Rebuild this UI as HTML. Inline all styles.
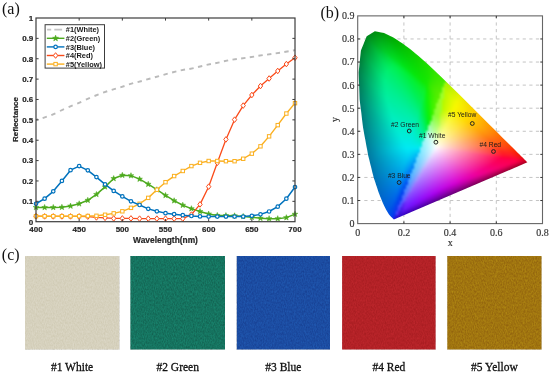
<!DOCTYPE html>
<html><head><meta charset="utf-8"><title>Figure</title>
<style>
html,body{margin:0;padding:0;background:#fff;}
body{width:550px;height:374px;overflow:hidden;position:relative;}
svg{position:absolute;left:0;top:0;}
.ph{position:absolute;top:256px;height:93.5px;
overflow:hidden;}
.ph svg{position:absolute;left:0;top:0;mix-blend-mode:overlay;opacity:0.35;}
.cap{position:absolute;top:360.3px;width:80px;text-align:center;font-family:"Liberation Serif", "Times New Roman", serif;font-size:11.5px;line-height:14px;color:#111;white-space:nowrap;-webkit-text-stroke:0.3px #111;}
.lbl{position:absolute;font-family:"Liberation Serif", "Times New Roman", serif;font-size:16px;line-height:16px;color:#111;white-space:nowrap;}
#fillwrap{position:absolute;left:0;top:0;width:550px;height:374px;clip-path:polygon(393.87px 219.51px,392.58px 218.36px,390.96px 216.75px,389px 214.39px,386.37px 210.26px,383.02px 203.57px,378.79px 192.97px,373.57px 177.28px,368.19px 155.51px,363.13px 128.35px,359.59px 99.34px,358.6px 72.47px,360.91px 50.45px,366.69px 36.19px,374.86px 31.16px,384.08px 32.91px,393.44px 37.6px,402.26px 43.21px,410.74px 49.51px,419.1px 56.43px,427.37px 63.82px,435.62px 71.53px,443.89px 79.47px,452.11px 87.52px,460.29px 95.58px,468.3px 103.54px,476.09px 111.29px,483.55px 118.72px,490.57px 125.69px,496.97px 132.09px,502.54px 137.63px,507.43px 142.5px,511.5px 146.51px,514.8px 149.81px,517.44px 152.44px,519.54px 154.52px,521.22px 156.21px,522.63px 157.61px,523.79px 158.77px,524.71px 159.67px,525.41px 160.36px,525.94px 160.89px,526.33px 161.28px,526.58px 161.54px,526.79px 161.75px,526.95px 161.91px,527.12px 162.07px,527.35px 162.3px,527.42px 162.37px);}
#fill{position:absolute;filter:blur(0.9px);left:0px;top:0px;width:2px;height:2px;box-shadow:372px 29px #008b11,374px 29px #008d0e,376px 29px #00910d,378px 29px #00940b,370px 31px #008a15,372px 31px #008b12,374px 31px #008e10,376px 31px #00910e,378px 31px #00930c,380px 31px #00960a,382px 31px #009a08,384px 31px #009e06,366px 33px #00871c,368px 33px #008819,370px 33px #008a17,372px 33px #008f15,374px 33px #009314,376px 33px #009612,378px 33px #00980f,380px 33px #009a0d,382px 33px #009c0a,384px 33px #009e08,386px 33px #00a005,388px 33px #00a403,364px 35px #008520,366px 35px #00861d,368px 35px #008b1c,370px 35px #008f1a,372px 35px #009319,374px 35px #009717,376px 35px #009b15,378px 35px #009d13,380px 35px #009f10,382px 35px #00a10e,384px 35px #00a30b,386px 35px #00a408,388px 35px #00a405,390px 35px #00a602,392px 35px #00aa00,364px 37px #008521,366px 37px #008920,368px 37px #008f1f,370px 37px #00931e,372px 37px #00981c,374px 37px #009c1a,376px 37px #00a019,378px 37px #00a317,380px 37px #00a514,382px 37px #00a611,384px 37px #00a80f,386px 37px #00a90c,388px 37px #00a908,390px 37px #00aa05,392px 37px #00ab01,394px 37px #01ad00,396px 37px #03b200,362px 39px #008424,364px 39px #008422,366px 39px #008c23,368px 39px #009423,370px 39px #009821,372px 39px #009c1f,374px 39px #00a01e,376px 39px #00a41c,378px 39px #00a81a,380px 39px #00aa18,382px 39px #00ab15,384px 39px #00ad12,386px 39px #00ae0f,388px 39px #00ae0c,390px 39px #00ae08,392px 39px #00af04,394px 39px #00b002,396px 39px #02b000,398px 39px #03b400,362px 41px #008325,364px 41px #008625,366px 41px #008e26,368px 41px #009627,370px 41px #009d26,372px 41px #00a122,374px 41px #00a521,376px 41px #00a91f,378px 41px #00ac1d,380px 41px #00b01c,382px 41px #00b119,384px 41px #00b216,386px 41px #00b313,388px 41px #00b40f,390px 41px #00b30b,392px 41px #00b308,394px 41px #00b404,396px 41px #01b402,398px 41px #03b501,400px 41px #04b700,402px 41px #06bc00,362px 43px #008327,364px 43px #008928,366px 43px #009029,368px 43px #00982b,370px 43px #00a02b,372px 43px #00a529,374px 43px #00a924,376px 43px #00ad22,378px 43px #00b121,380px 43px #00b51f,382px 43px #00b61c,384px 43px #00b719,386px 43px #00b816,388px 43px #00b913,390px 43px #00b80f,392px 43px #00b80b,394px 43px #00b807,396px 43px #01b805,398px 43px #02b903,400px 43px #04b901,402px 43px #05bb00,404px 43px #07bf00,360px 45px #00812a,362px 45px #008329,364px 45px #008b2b,366px 45px #00932d,368px 45px #009b2e,370px 45px #00a22f,372px 45px #00aa2f,374px 45px #00ae2c,376px 45px #00b127,378px 45px #00b524,380px 45px #00b922,382px 45px #00bc20,384px 45px #00bc1d,386px 45px #00bd1a,388px 45px #00be17,390px 45px #00be13,392px 45px #00bd0f,394px 45px #00bc0b,396px 45px #00bc07,398px 45px #02bc05,400px 45px #03bd03,402px 45px #05be02,404px 45px #06bf01,406px 45px #08c200,408px 45px #09c600,360px 47px #00812b,362px 47px #00852c,364px 47px #008d2e,366px 47px #009530,368px 47px #009d32,370px 47px #00a533,372px 47px #00ac34,374px 47px #00b233,376px 47px #00b62f,378px 47px #00b92a,380px 47px #00bd25,382px 47px #00c124,384px 47px #00c221,386px 47px #00c21d,388px 47px #00c31a,390px 47px #00c317,392px 47px #00c212,394px 47px #00c10e,396px 47px #00c10a,398px 47px #01c007,400px 47px #03c005,402px 47px #04c103,404px 47px #06c202,406px 47px #07c301,408px 47px #09c500,410px 47px #0bc900,358px 49px #00802f,360px 49px #00802d,362px 49px #00882f,364px 49px #008f31,366px 49px #009734,368px 49px #009f35,370px 49px #00a737,372px 49px #00ae38,374px 49px #00b639,376px 49px #00ba36,378px 49px #00be33,380px 49px #00c12e,382px 49px #00c527,384px 49px #00c825,386px 49px #00c821,388px 49px #00c81e,390px 49px #00c81a,392px 49px #00c716,394px 49px #00c612,396px 49px #00c50d,398px 49px #01c50a,400px 49px #02c407,402px 49px #04c405,404px 49px #05c504,406px 49px #07c602,408px 49px #08c701,410px 49px #0ac900,412px 49px #0dcc00,358px 51px #008032,360px 51px #00812f,362px 51px #008a32,364px 51px #009235,366px 51px #009937,368px 51px #00a139,370px 51px #00a93b,372px 51px #00b03c,374px 51px #00b83d,376px 51px #00bf3d,378px 51px #00c23a,380px 51px #00c536,382px 51px #00c931,384px 51px #00cc29,386px 51px #00cd25,388px 51px #00cd21,390px 51px #00cd1e,392px 51px #00cd1a,394px 51px #00cb15,396px 51px #00ca11,398px 51px #00c90d,400px 51px #02c80a,402px 51px #03c807,404px 51px #05c805,406px 51px #06c803,408px 51px #08c902,410px 51px #0acb01,412px 51px #0ccc00,414px 51px #0fce00,358px 53px #008034,360px 53px #008233,362px 53px #008c36,364px 53px #009438,366px 53px #009c3b,368px 53px #00a33d,370px 53px #00ab3f,372px 53px #00b240,374px 53px #00ba42,376px 53px #00c142,378px 53px #00c641,380px 53px #00ca3e,382px 53px #00cd3a,384px 53px #00d035,386px 53px #00d32d,388px 53px #00d225,390px 53px #00d221,392px 53px #00d21e,394px 53px #00d019,396px 53px #00cf14,398px 53px #00cd10,400px 53px #01cc0c,402px 53px #03cb09,404px 53px #04cb07,406px 53px #06cb05,408px 53px #07cc03,410px 53px #09cd02,412px 53px #0bce01,414px 53px #0fcf00,416px 53px #12d000,418px 53px #15d400,358px 55px #008036,360px 55px #008336,362px 55px #008c39,364px 55px #00963c,366px 55px #009e3f,368px 55px #00a541,370px 55px #00ad43,372px 55px #00b445,374px 55px #00bc46,376px 55px #00c347,378px 55px #00ca48,380px 55px #00ce45,382px 55px #00d141,384px 55px #00d43d,386px 55px #00d738,388px 55px #00d82f,390px 55px #00d725,392px 55px #00d721,394px 55px #00d61d,396px 55px #00d418,398px 55px #00d213,400px 55px #00d10f,402px 55px #02cf0c,404px 55px #03cf09,406px 55px #05ce07,408px 55px #07ce05,410px 55px #08cf03,412px 55px #0bd002,414px 55px #0ed101,416px 55px #11d100,418px 55px #14d300,420px 55px #17d600,358px 57px #007f39,360px 57px #008439,362px 57px #008d3c,364px 57px #00973f,366px 57px #00a042,368px 57px #00a745,370px 57px #00af47,372px 57px #00b649,374px 57px #00be4a,376px 57px #00c54c,378px 57px #00cc4d,380px 57px #00d24c,382px 57px #00d549,384px 57px #00d845,386px 57px #00db41,388px 57px #00de3c,390px 57px #00dd32,392px 57px #00dc25,394px 57px #00db21,396px 57px #00d91c,398px 57px #00d717,400px 57px #00d512,402px 57px #01d30e,404px 57px #03d20b,406px 57px #04d209,408px 57px #06d106,410px 57px #08d204,412px 57px #0ad203,414px 57px #0dd302,416px 57px #10d301,418px 57px #13d400,420px 57px #16d600,422px 57px #19d900,358px 59px #007f3b,360px 59px #00843c,362px 59px #008e3f,364px 59px #009742,366px 59px #00a146,368px 59px #00a949,370px 59px #00b14b,372px 59px #00b84d,374px 59px #00c04f,376px 59px #00c750,378px 59px #00ce51,380px 59px #00d552,382px 59px #00d950,384px 59px #00dc4d,386px 59px #00df49,388px 59px #00e144,390px 59px #00e23d,392px 59px #00e134,394px 59px #00e027,396px 59px #00de20,398px 59px #00dc1b,400px 59px #00da16,402px 59px #01d811,404px 59px #02d60e,406px 59px #04d50b,408px 59px #06d408,410px 59px #07d405,412px 59px #09d504,414px 59px #0cd502,416px 59px #0fd501,418px 59px #12d601,420px 59px #15d700,422px 59px #19d800,424px 59px #1bdb00,358px 61px #007f3e,360px 61px #00853f,362px 61px #008e42,364px 61px #009845,366px 61px #00a149,368px 61px #00ab4c,370px 61px #00b34f,372px 61px #00ba51,374px 61px #00c153,376px 61px #00c955,378px 61px #00d056,380px 61px #00d657,382px 61px #00dd57,384px 61px #00e054,386px 61px #00e250,388px 61px #00e54c,390px 61px #00e748,392px 61px #00e63f,394px 61px #00e535,396px 61px #00e429,398px 61px #00e11f,400px 61px #00de19,402px 61px #00dc14,404px 61px #02da10,406px 61px #03d90d,408px 61px #05d80a,410px 61px #07d707,412px 61px #08d705,414px 61px #0bd703,416px 61px #0ed702,418px 61px #11d801,420px 61px #14d801,422px 61px #18da00,424px 61px #1bdb00,426px 61px #1ede00,358px 63px #007f40,360px 63px #008642,362px 63px #008f45,364px 63px #009849,366px 63px #00a24c,368px 63px #00ab4f,370px 63px #00b453,372px 63px #00bc56,374px 63px #00c358,376px 63px #00ca59,378px 63px #00d15b,380px 63px #00d85c,382px 63px #00df5d,384px 63px #00e35b,386px 63px #00e658,388px 63px #00e854,390px 63px #00ea50,392px 63px #00eb49,394px 63px #00ea41,396px 63px #00e837,398px 63px #00e62b,400px 63px #00e31d,402px 63px #00e118,404px 63px #01de13,406px 63px #03dc0f,408px 63px #04db0c,410px 63px #06da09,412px 63px #08d906,414px 63px #0ad904,416px 63px #0dd903,418px 63px #10d902,420px 63px #13da01,422px 63px #17db00,424px 63px #1adc00,426px 63px #1dde00,428px 63px #22df00,358px 65px #007f43,360px 65px #008745,362px 65px #009048,364px 65px #00994c,366px 65px #00a24f,368px 65px #00ab53,370px 65px #00b556,372px 65px #00be5a,374px 65px #00c55c,376px 65px #00cc5e,378px 65px #00d35f,380px 65px #00da61,382px 65px #00e062,384px 65px #00e662,386px 65px #00e95f,388px 65px #00eb5b,390px 65px #00ed57,392px 65px #00ef53,394px 65px #00ee4b,396px 65px #00ed42,398px 65px #00eb38,400px 65px #00e82b,402px 65px #00e51b,404px 65px #00e316,406px 65px #02e012,408px 65px #04de0e,410px 65px #06dd0a,412px 65px #07dc07,414px 65px #09dc05,416px 65px #0cdb03,418px 65px #0fdb02,420px 65px #12dc01,422px 65px #16dc01,424px 65px #19dd00,426px 65px #1cdf00,428px 65px #21e000,430px 65px #26e100,358px 67px #007f45,360px 67px #008748,362px 67px #00904b,364px 67px #00994f,366px 67px #00a252,368px 67px #00ab56,370px 67px #00b559,372px 67px #00be5d,374px 67px #00c760,376px 67px #00ce62,378px 67px #00d464,380px 67px #00db65,382px 67px #00e166,384px 67px #00e767,386px 67px #00ec66,388px 67px #00ee62,390px 67px #00f05e,392px 67px #00f059,394px 67px #00f053,396px 67px #00f04b,398px 67px #00ef43,400px 67px #00ed38,402px 67px #00ea2c,404px 67px #00e71c,406px 67px #01e414,408px 67px #03e210,410px 67px #05e00c,412px 67px #07df09,414px 67px #08de06,416px 67px #0bdd04,418px 67px #0edd03,420px 67px #12dd02,422px 67px #15de01,424px 67px #18df00,426px 67px #1be000,428px 67px #20e100,430px 67px #26e100,432px 67px #2be200,356px 69px #007f4a,358px 69px #007f48,360px 69px #00884b,362px 69px #00914e,364px 69px #009a52,366px 69px #00a355,368px 69px #00ac59,370px 69px #00b55c,372px 69px #00be60,374px 69px #00c764,376px 69px #00cf67,378px 69px #00d669,380px 69px #00dc6a,382px 69px #00e36b,384px 69px #00e96c,386px 69px #00ee6c,388px 69px #00ef68,390px 69px #00f063,392px 69px #00f05e,394px 69px #00f059,396px 69px #00f052,398px 69px #00f04a,400px 69px #00f042,402px 69px #00ee38,404px 69px #00eb2c,406px 69px #01e81e,408px 69px #03e613,410px 69px #04e30f,412px 69px #06e20b,414px 69px #08e007,416px 69px #0ae005,418px 69px #0ddf04,420px 69px #11df02,422px 69px #14df01,424px 69px #17e001,426px 69px #1ae100,428px 69px #1fe200,430px 69px #24e200,432px 69px #2be200,434px 69px #2fe300,356px 71px #007e4c,358px 71px #00804b,360px 71px #00894e,362px 71px #009151,364px 71px #009a55,366px 71px #00a358,368px 71px #00ac5c,370px 71px #00b55f,372px 71px #00be63,374px 71px #00c767,376px 71px #00d06b,378px 71px #00d76d,380px 71px #00de6f,382px 71px #00e470,384px 71px #00ea71,386px 71px #00ef71,388px 71px #00ef6d,390px 71px #00f068,392px 71px #00f063,394px 71px #00f05e,396px 71px #00f058,398px 71px #00f051,400px 71px #00f049,402px 71px #00f041,404px 71px #00ef37,406px 71px #00ec2c,408px 71px #02e91f,410px 71px #04e711,412px 71px #05e50d,414px 71px #07e309,416px 71px #09e206,418px 71px #0ce104,420px 71px #10e103,422px 71px #13e102,424px 71px #16e101,426px 71px #1ae200,428px 71px #1ee300,430px 71px #25e300,432px 71px #2be300,434px 71px #30e400,436px 71px #33e500,356px 73px #007e4e,358px 73px #00804d,360px 73px #008951,362px 73px #009255,364px 73px #009b58,366px 73px #00a35b,368px 73px #00ac5f,370px 73px #00b563,372px 73px #00be66,374px 73px #00c76a,376px 73px #00d06e,378px 73px #00d972,380px 73px #00df74,382px 73px #00e575,384px 73px #00eb76,386px 73px #00ef75,388px 73px #00ef71,390px 73px #00ef6d,392px 73px #00f068,394px 73px #00f063,396px 73px #00f05e,398px 73px #00f057,400px 73px #00f050,402px 73px #00f048,404px 73px #00f03f,406px 73px #00f036,408px 73px #01ed2b,410px 73px #03ea1f,412px 73px #05e80f,414px 73px #07e60b,416px 73px #08e407,418px 73px #0ce305,420px 73px #0fe303,422px 73px #12e202,424px 73px #15e301,426px 73px #19e300,428px 73px #1ce400,430px 73px #26e400,432px 73px #2de400,434px 73px #31e500,436px 73px #34e500,438px 73px #38e600,440px 73px #3ce800,356px 75px #007e51,358px 75px #00804f,360px 75px #008954,362px 75px #009358,364px 75px #009b5b,366px 75px #00a45e,368px 75px #00ac62,370px 75px #00b566,372px 75px #00be69,374px 75px #00c76d,376px 75px #00d071,378px 75px #00d875,380px 75px #00e178,382px 75px #00e67a,384px 75px #00ec7a,386px 75px #00ef79,388px 75px #00ef76,390px 75px #00ef72,392px 75px #00ef6d,394px 75px #00f068,396px 75px #00f063,398px 75px #00f05d,400px 75px #00f056,402px 75px #00f04e,404px 75px #00f046,406px 75px #00f03e,408px 75px #01f035,410px 75px #02ee2b,412px 75px #04eb1f,414px 75px #06e910,416px 75px #08e709,418px 75px #0be506,420px 75px #0ee404,422px 75px #11e403,424px 75px #14e401,426px 75px #18e401,428px 75px #1be500,430px 75px #28e500,432px 75px #2fe500,434px 75px #33e600,436px 75px #37e600,438px 75px #39e700,440px 75px #3ce800,442px 75px #40e900,356px 77px #007e53,358px 77px #007f52,360px 77px #008956,362px 77px #00925a,364px 77px #009c5e,366px 77px #00a461,368px 77px #00ad65,370px 77px #00b569,372px 77px #00be6c,374px 77px #00c770,376px 77px #00cf74,378px 77px #00d878,380px 77px #00e07b,382px 77px #00e87e,384px 77px #00ed7f,386px 77px #00ef7d,388px 77px #00ef7a,390px 77px #00ef76,392px 77px #00ef72,394px 77px #00f06d,396px 77px #00f068,398px 77px #00f062,400px 77px #00f05c,402px 77px #00f055,404px 77px #00f04d,406px 77px #00f045,408px 77px #00f03c,410px 77px #02f034,412px 77px #04ee2a,414px 77px #05eb1e,416px 77px #07e911,418px 77px #0ae807,420px 77px #0de605,422px 77px #10e603,424px 77px #13e502,426px 77px #17e601,428px 77px #1ae600,430px 77px #2ae600,432px 77px #31e600,434px 77px #36e700,436px 77px #39e700,438px 77px #3ce800,440px 77px #3ee800,442px 77px #40e900,444px 77px #44ea00,356px 79px #007e55,358px 79px #007f54,360px 79px #008858,362px 79px #00925c,364px 79px #009b60,366px 79px #00a465,368px 79px #00ad68,370px 79px #00b56c,372px 79px #00be6f,374px 79px #00c773,376px 79px #00cf77,378px 79px #00d87b,380px 79px #00e07e,382px 79px #00e882,384px 79px #00ee84,386px 79px #00ef81,388px 79px #00ef7e,390px 79px #00ef7a,392px 79px #00ef76,394px 79px #00ef72,396px 79px #00f06d,398px 79px #00f067,400px 79px #00f062,402px 79px #00f05a,404px 79px #00f053,406px 79px #00f04b,408px 79px #00f043,410px 79px #01f03b,412px 79px #03f033,414px 79px #05ee29,416px 79px #07ec1e,418px 79px #09ea12,420px 79px #0ce806,422px 79px #0fe704,424px 79px #12e702,426px 79px #16e701,428px 79px #20e700,430px 79px #2ce700,432px 79px #33e700,434px 79px #38e700,436px 79px #3ce800,438px 79px #3fe800,440px 79px #41e900,442px 79px #43ea00,444px 79px #45eb00,446px 79px #a3f000,356px 81px #007e57,358px 81px #007e56,360px 81px #00875a,362px 81px #00915e,364px 81px #009a62,366px 81px #00a467,368px 81px #00ad6b,370px 81px #00b56f,372px 81px #00be72,374px 81px #00c676,376px 81px #00cf7a,378px 81px #00d77d,380px 81px #00df81,382px 81px #00e785,384px 81px #00ee88,386px 81px #00ef85,388px 81px #00ef82,390px 81px #00ef7e,392px 81px #00ef7b,394px 81px #00ef76,396px 81px #00f072,398px 81px #00f06c,400px 81px #00f067,402px 81px #00f060,404px 81px #00f059,406px 81px #00f052,408px 81px #00f049,410px 81px #00f041,412px 81px #02f03a,414px 81px #04f032,416px 81px #06ee28,418px 81px #08ec1d,420px 81px #0bea12,422px 81px #0ee905,424px 81px #12e803,426px 81px #15e801,428px 81px #24e800,430px 81px #2fe800,432px 81px #36e800,434px 81px #3be800,436px 81px #3fe900,438px 81px #42e900,440px 81px #44ea00,442px 81px #46ea00,444px 81px #47eb00,446px 81px #a5f000,448px 81px #adf000,358px 83px #007e58,360px 83px #00875c,362px 83px #009060,364px 83px #009964,366px 83px #00a369,368px 83px #00ac6d,370px 83px #00b672,372px 83px #00be75,374px 83px #00c679,376px 83px #00cf7d,378px 83px #00d780,380px 83px #00df84,382px 83px #00e788,384px 83px #00ed8b,386px 83px #00ef89,388px 83px #00ef86,390px 83px #00ef83,392px 83px #00ef7f,394px 83px #00ef7b,396px 83px #00ef76,398px 83px #00f071,400px 83px #00f06c,402px 83px #00f066,404px 83px #00f05f,406px 83px #00f058,408px 83px #00f050,410px 83px #00f047,412px 83px #02f040,414px 83px #03f038,416px 83px #05f030,418px 83px #07ef26,420px 83px #0aec1c,422px 83px #0deb13,424px 83px #11ea07,426px 83px #14e902,428px 83px #28e900,430px 83px #32e900,432px 83px #39e900,434px 83px #3ee900,436px 83px #42e900,438px 83px #45ea00,440px 83px #48ea00,442px 83px #4aeb00,444px 83px #a0ff28,446px 83px #a9f200,448px 83px #aef000,450px 83px #b6f000,358px 85px #007e5a,360px 85px #00865e,362px 85px #008f62,364px 85px #009966,366px 85px #00a26b,368px 85px #00ab6f,370px 85px #00b574,372px 85px #00be78,374px 85px #00c67c,376px 85px #00ce7f,378px 85px #00d683,380px 85px #00de87,382px 85px #00e68a,384px 85px #00ed8e,386px 85px #00ef8d,388px 85px #00ef8a,390px 85px #00ef87,392px 85px #00ef83,394px 85px #00ef7f,396px 85px #00ef7b,398px 85px #00ef76,400px 85px #00f071,402px 85px #00f06c,404px 85px #00f065,406px 85px #00f05d,408px 85px #00f056,410px 85px #00f04d,412px 85px #01f045,414px 85px #03f03e,416px 85px #05f037,418px 85px #07f02f,420px 85px #09ef25,422px 85px #0ced1c,424px 85px #10eb13,426px 85px #13eb03,428px 85px #2cea00,430px 85px #36ea00,432px 85px #3dea00,434px 85px #42ea00,436px 85px #46ea00,438px 85px #49eb00,440px 85px #4beb00,442px 85px #4eec00,444px 85px #aaf600,446px 85px #aff400,448px 85px #b3f200,450px 85px #b8f000,452px 85px #c0f000,358px 87px #007e5c,360px 87px #008660,362px 87px #008f64,364px 87px #009869,366px 87px #00a16d,368px 87px #00aa71,370px 87px #00b376,372px 87px #00bd7a,374px 87px #00c67f,376px 87px #00ce82,378px 87px #00d686,380px 87px #00de8a,382px 87px #00e58d,384px 87px #00ec90,386px 87px #00ef90,388px 87px #00ef8e,390px 87px #00ef8b,392px 87px #00ef87,394px 87px #00ef83,396px 87px #00ef7f,398px 87px #00ef7b,400px 87px #00f076,402px 87px #00f071,404px 87px #00f06b,406px 87px #00f063,408px 87px #00f05c,410px 87px #00f054,412px 87px #00f04b,414px 87px #02f044,416px 87px #04f03c,418px 87px #06f035,420px 87px #08f02d,422px 87px #0cee24,424px 87px #0fed1c,426px 87px #12ec04,428px 87px #29eb01,430px 87px #39eb00,432px 87px #40eb00,434px 87px #45eb00,436px 87px #4aeb00,438px 87px #4deb00,440px 87px #4fec00,442px 87px #9dff2a,444px 87px #aff700,446px 87px #b4f500,448px 87px #b9f300,450px 87px #bdf200,452px 87px #c2f000,454px 87px #c9f000,358px 89px #007e5f,360px 89px #008562,362px 89px #008e66,364px 89px #00976b,366px 89px #00a06f,368px 89px #00a973,370px 89px #00b278,372px 89px #00bb7c,374px 89px #00c481,376px 89px #00ce85,378px 89px #00d589,380px 89px #00dd8d,382px 89px #00e590,384px 89px #00ec93,386px 89px #00ef93,388px 89px #00ef91,390px 89px #00ef8f,392px 89px #00ef8b,394px 89px #00ef88,396px 89px #00ef84,398px 89px #00ef80,400px 89px #00ef7b,402px 89px #00f076,404px 89px #00f070,406px 89px #00f069,408px 89px #00f062,410px 89px #00f05a,412px 89px #00f051,414px 89px #01f049,416px 89px #03f042,418px 89px #06f03b,420px 89px #08f133,422px 89px #0bf02c,424px 89px #0eef23,426px 89px #11ed06,428px 89px #26ed01,430px 89px #35ec00,432px 89px #44ec00,434px 89px #49ec00,436px 89px #4dec00,438px 89px #51ec00,440px 89px #53ec00,442px 89px #9dff29,444px 89px #b3f900,446px 89px #b9f700,448px 89px #bef500,450px 89px #c3f300,452px 89px #c7f100,454px 89px #ccf000,456px 89px #d3f000,358px 91px #007d61,360px 91px #008564,362px 91px #008d68,364px 91px #00966d,366px 91px #009f71,368px 91px #00a875,370px 91px #00b17a,372px 91px #00ba7e,374px 91px #00c383,376px 91px #00cc87,378px 91px #00d58c,380px 91px #00dd8f,382px 91px #00e493,384px 91px #00eb96,386px 91px #00ef97,388px 91px #00ef95,390px 91px #00ef92,392px 91px #00ef90,394px 91px #00ef8c,396px 91px #00ef88,398px 91px #00ef84,400px 91px #00ef80,402px 91px #00f07b,404px 91px #00f075,406px 91px #00f06f,408px 91px #00f068,410px 91px #00f060,412px 91px #00f057,414px 91px #00f04f,416px 91px #03f048,418px 91px #05f040,420px 91px #07f139,422px 91px #0af132,424px 91px #0df02b,426px 91px #10ef07,428px 91px #23ee01,430px 91px #33ed00,432px 91px #40ed00,434px 91px #4bec00,436px 91px #52ec00,438px 91px #55ed00,440px 91px #58ed00,442px 91px #9eff29,444px 91px #b7fa00,446px 91px #bef800,448px 91px #c4f700,450px 91px #c9f500,452px 91px #cdf300,454px 91px #d1f100,456px 91px #d5f000,458px 91px #dcf000,358px 93px #007d63,360px 93px #008466,362px 93px #008d6a,364px 93px #00956f,366px 93px #009e73,368px 93px #00a777,370px 93px #00b07b,372px 93px #00b980,374px 93px #00c284,376px 93px #00ca89,378px 93px #00d38e,380px 93px #00dc92,382px 93px #00e396,384px 93px #00ea99,386px 93px #00ef9a,388px 93px #00ef98,390px 93px #00ef96,392px 93px #00ef93,394px 93px #00ef90,396px 93px #00ef8d,398px 93px #00ef89,400px 93px #00ef85,402px 93px #00ef80,404px 93px #00f07a,406px 93px #00f075,408px 93px #00f06e,410px 93px #00f066,412px 93px #00f05d,414px 93px #00f055,416px 93px #02f04d,418px 93px #04f046,420px 93px #07f03e,422px 93px #09f137,424px 93px #0cf127,426px 93px #10f009,428px 93px #22ef01,430px 93px #32ee00,432px 93px #3fee00,434px 93px #4aed00,436px 93px #53ed00,438px 93px #59ed00,440px 93px #99fe2b,442px 93px #9eff29,444px 93px #b8fa00,446px 93px #c2f900,448px 93px #c9f800,450px 93px #cef600,452px 93px #d3f500,454px 93px #d7f300,456px 93px #dbf100,458px 93px #dff000,460px 93px #e6f000,358px 95px #007d66,360px 95px #008468,362px 95px #008c6d,364px 95px #009571,366px 95px #009d75,368px 95px #00a679,370px 95px #00af7d,372px 95px #00b782,374px 95px #00c086,376px 95px #00c98b,378px 95px #00d28f,380px 95px #00da94,382px 95px #00e398,384px 95px #00ea9b,386px 95px #00ef9d,388px 95px #00ef9b,390px 95px #00ef99,392px 95px #00ef97,394px 95px #00ef94,396px 95px #00ef91,398px 95px #00ef8d,400px 95px #00ef89,402px 95px #00ef85,404px 95px #00ef80,406px 95px #00f07a,408px 95px #00f074,410px 95px #00f06c,412px 95px #00f064,414px 95px #00f05b,416px 95px #01f052,418px 95px #03f04b,420px 95px #06f043,422px 95px #08f13c,424px 95px #0cf124,426px 95px #0ff10a,428px 95px #20f002,430px 95px #31ef00,432px 95px #3fee00,434px 95px #4aee00,436px 95px #53ee00,438px 95px #5aee00,440px 95px #9aff2b,442px 95px #9fff29,444px 95px #bafa00,446px 95px #c4f900,448px 95px #cdf900,450px 95px #d3f800,452px 95px #d9f600,454px 95px #ddf400,456px 95px #e2f300,458px 95px #e5f100,460px 95px #e7ee00,462px 95px #e9eb00,358px 97px #007d68,360px 97px #00836b,362px 97px #008c6f,364px 97px #009473,366px 97px #009c77,368px 97px #00a57b,370px 97px #00ad7f,372px 97px #00b684,374px 97px #00bf88,376px 97px #00c78d,378px 97px #00d091,380px 97px #00d996,382px 97px #00e19a,384px 97px #00e99e,386px 97px #00eea1,388px 97px #00ef9f,390px 97px #00ef9c,392px 97px #00ef9a,394px 97px #00ef98,396px 97px #00ef95,398px 97px #00ef92,400px 97px #00ef8e,402px 97px #00ef8a,404px 97px #00ef85,406px 97px #00f07f,408px 97px #00f079,410px 97px #00f072,412px 97px #00f06a,414px 97px #00f061,416px 97px #00f058,418px 97px #03f050,420px 97px #05f049,422px 97px #08f141,424px 97px #0bf124,426px 97px #0ef10b,428px 97px #1ff102,430px 97px #31f000,432px 97px #3fef00,434px 97px #4bef00,436px 97px #54ef00,438px 97px #5cef00,440px 97px #9aff2b,442px 97px #a0ff28,444px 97px #bcfa00,446px 97px #c6f900,448px 97px #cff900,450px 97px #d8f900,452px 97px #def700,454px 97px #e3f600,456px 97px #e8f400,458px 97px #ecf300,460px 97px #ebee00,462px 97px #eae900,464px 97px #ece600,358px 99px #007d6a,360px 99px #00836d,362px 99px #008b71,364px 99px #009375,366px 99px #009c79,368px 99px #00a47d,370px 99px #00ac81,372px 99px #00b586,374px 99px #00bd8a,376px 99px #00c68e,378px 99px #00ce93,380px 99px #00d797,382px 99px #00df9c,384px 99px #00e7a0,386px 99px #00eea3,388px 99px #00eea2,390px 99px #00efa0,392px 99px #00ef9e,394px 99px #00ef9b,396px 99px #00ef99,398px 99px #00ef96,400px 99px #00ef93,402px 99px #00ef8e,404px 99px #00ef8a,406px 99px #00ef85,408px 99px #00f07f,410px 99px #00f079,412px 99px #00f070,414px 99px #00f068,416px 99px #00f05e,418px 99px #02f056,420px 99px #04f04e,422px 99px #07f143,424px 99px #0af124,426px 99px #0df10d,428px 99px #1df103,430px 99px #30f100,432px 99px #3ff000,434px 99px #4cf000,436px 99px #56ef00,438px 99px #95fe2e,440px 99px #9bff2b,442px 99px #b2fa00,444px 99px #bef900,446px 99px #c8f900,448px 99px #d2f900,450px 99px #dbf900,452px 99px #e3f800,454px 99px #e9f700,456px 99px #eef600,458px 99px #f0f300,460px 99px #efee00,462px 99px #eee900,464px 99px #ede400,466px 99px #efe100,358px 101px #007d6c,360px 101px #00816e,362px 101px #008a73,364px 101px #009277,366px 101px #009b7b,368px 101px #00a37f,370px 101px #00ab83,372px 101px #00b488,374px 101px #00bc8c,376px 101px #00c490,378px 101px #00cd95,380px 101px #00d599,382px 101px #00dd9e,384px 101px #00e5a2,386px 101px #00eca5,388px 101px #00eea5,390px 101px #00eea3,392px 101px #00efa1,394px 101px #00ef9f,396px 101px #00ef9d,398px 101px #00ef9a,400px 101px #00ef97,402px 101px #00ef93,404px 101px #00ef8f,406px 101px #00ef8a,408px 101px #00f085,410px 101px #00f07e,412px 101px #00f077,414px 101px #00f06e,416px 101px #00f065,418px 101px #01f05b,420px 101px #03f053,422px 101px #06f03f,424px 101px #09f124,426px 101px #0df10e,428px 101px #1cf103,430px 101px #30f201,432px 101px #40f100,434px 101px #4df000,436px 101px #58f000,438px 101px #95fe2d,440px 101px #9bff2a,442px 101px #b4fa00,444px 101px #c0f900,446px 101px #cbf900,448px 101px #d5f900,450px 101px #def900,452px 101px #e7f800,454px 101px #eef800,456px 101px #f4f700,458px 101px #f3f300,460px 101px #f2ee00,462px 101px #f1e900,464px 101px #f0e400,466px 101px #f0df00,468px 101px #f2dd00,358px 103px #007d6e,360px 103px #00806f,362px 103px #008974,364px 103px #009179,366px 103px #009a7d,368px 103px #00a281,370px 103px #00aa86,372px 103px #00b28a,374px 103px #00bb8e,376px 103px #00c392,378px 103px #00cb97,380px 103px #00d39b,382px 103px #00db9f,384px 103px #00e3a4,386px 103px #00eaa7,388px 103px #00eea9,390px 103px #00eea7,392px 103px #00eea5,394px 103px #00efa3,396px 103px #00efa0,398px 103px #00ef9e,400px 103px #00ef9b,402px 103px #00ef98,404px 103px #00ef94,406px 103px #00ef8f,408px 103px #00ef8a,410px 103px #00f084,412px 103px #00f07d,414px 103px #00f075,416px 103px #00f06b,418px 103px #00f061,420px 103px #02f059,422px 103px #05f03f,424px 103px #08f125,426px 103px #0cf10f,428px 103px #1af104,430px 103px #2ff201,432px 103px #40f200,434px 103px #4ef100,436px 103px #8efe31,438px 103px #95fe2d,440px 103px #9cff2a,442px 103px #b6fa00,444px 103px #c2f900,446px 103px #cdf900,448px 103px #d7f900,450px 103px #e1f900,452px 103px #eaf800,454px 103px #f2f800,456px 103px #f7f600,458px 103px #f6f200,460px 103px #f5ee00,462px 103px #f4e900,464px 103px #f3e400,466px 103px #f3df00,468px 103px #f3da00,470px 103px #f5d800,358px 105px #007d70,360px 105px #007f71,362px 105px #008775,364px 105px #00907a,366px 105px #00987e,368px 105px #00a183,370px 105px #00a988,372px 105px #00b18c,374px 105px #00b990,376px 105px #00c194,378px 105px #00c999,380px 105px #00d19d,382px 105px #00d9a1,384px 105px #00e1a5,386px 105px #00e8a9,388px 105px #00eeac,390px 105px #00eeaa,392px 105px #00eea8,394px 105px #00eea6,396px 105px #00efa4,398px 105px #00efa2,400px 105px #00ef9f,402px 105px #00ef9c,404px 105px #00ef99,406px 105px #00ef94,408px 105px #00ef90,410px 105px #00ef8a,412px 105px #00f083,414px 105px #00f07c,416px 105px #00f072,418px 105px #00f068,420px 105px #01f05f,422px 105px #04f040,424px 105px #07f127,426px 105px #0bf111,428px 105px #19f104,430px 105px #2ef201,432px 105px #41f200,434px 105px #50f200,436px 105px #8ffe31,438px 105px #96fe2d,440px 105px #9dff2a,442px 105px #b8fa00,444px 105px #c4f900,446px 105px #d0f900,448px 105px #daf900,450px 105px #e4f900,452px 105px #eef800,454px 105px #f6f800,456px 105px #f9f500,458px 105px #f8f100,460px 105px #f7ed00,462px 105px #f7e900,464px 105px #f6e400,466px 105px #f6df00,468px 105px #f6da00,470px 105px #f7d500,472px 105px #f8d300,358px 107px #007d72,360px 107px #007e72,362px 107px #008677,364px 107px #008e7b,366px 107px #009780,368px 107px #009f84,370px 107px #00a789,372px 107px #00b08e,374px 107px #00b892,376px 107px #00c096,378px 107px #00c89a,380px 107px #00d09f,382px 107px #00d8a3,384px 107px #00dfa7,386px 107px #00e7ab,388px 107px #00edae,390px 107px #00eeae,392px 107px #00eeac,394px 107px #00eeaa,396px 107px #00eea8,398px 107px #00efa6,400px 107px #00efa3,402px 107px #00efa0,404px 107px #00ef9e,406px 107px #00ef9a,408px 107px #00ef95,410px 107px #00ef90,412px 107px #00f089,414px 107px #00f082,416px 107px #00f079,418px 107px #00f06f,420px 107px #00f05d,422px 107px #03f042,424px 107px #07f02a,426px 107px #0af113,428px 107px #17f105,430px 107px #2df202,432px 107px #40f200,434px 107px #51f200,436px 107px #8ffe31,438px 107px #96fe2d,440px 107px #9dff29,442px 107px #bafa00,444px 107px #c7f900,446px 107px #d3f900,448px 107px #def900,450px 107px #e8f800,452px 107px #f1f800,454px 107px #f8f700,456px 107px #f9f400,458px 107px #faf000,460px 107px #f9ec00,462px 107px #f9e800,464px 107px #f8e400,466px 107px #f8df00,468px 107px #f8da00,470px 107px #f9d500,472px 107px #fad000,474px 107px #fbce00,358px 109px #007c74,360px 109px #007d73,362px 109px #008578,364px 109px #008d7c,366px 109px #009581,368px 109px #009d86,370px 109px #00a68a,372px 109px #00ae8f,374px 109px #00b694,376px 109px #00bf98,378px 109px #00c69c,380px 109px #00cea1,382px 109px #00d6a5,384px 109px #00dda9,386px 109px #00e5ad,388px 109px #00ebb1,390px 109px #00eeb1,392px 109px #00eeaf,394px 109px #00eeae,396px 109px #00eeac,398px 109px #00eeaa,400px 109px #00efa7,402px 109px #00efa5,404px 109px #00efa2,406px 109px #00ef9f,408px 109px #00ef9a,410px 109px #00ef95,412px 109px #00ef90,414px 109px #00f089,416px 109px #00f081,418px 109px #00f076,420px 109px #00f05e,422px 109px #02f044,424px 109px #06f02c,426px 109px #09f114,428px 109px #16f105,430px 109px #2cf202,432px 109px #40f200,434px 109px #86fd35,436px 109px #8ffe31,438px 109px #97fe2d,440px 109px #9eff29,442px 109px #bdfa01,444px 109px #caf901,446px 109px #d6f900,448px 109px #e1f900,450px 109px #ecf800,452px 109px #f5f800,454px 109px #f9f500,456px 109px #f9f200,458px 109px #faee00,460px 109px #fbeb00,462px 109px #fae700,464px 109px #fae300,466px 109px #fade00,468px 109px #fada00,470px 109px #fbd500,472px 109px #fcd000,474px 109px #fdcb00,476px 109px #ffc900,360px 111px #007c75,362px 111px #008479,364px 111px #008c7e,366px 111px #009482,368px 111px #009c87,370px 111px #00a48c,372px 111px #00ac90,374px 111px #00b495,376px 111px #00bc9a,378px 111px #00c59e,380px 111px #00cca3,382px 111px #00d4a7,384px 111px #00dbab,386px 111px #00e3af,388px 111px #00e9b3,390px 111px #00eeb5,392px 111px #00eeb3,394px 111px #00eeb1,396px 111px #00eeaf,398px 111px #00eead,400px 111px #00eeab,402px 111px #00efa9,404px 111px #00efa6,406px 111px #00efa3,408px 111px #00efa0,410px 111px #00ef9b,412px 111px #00ef96,414px 111px #00f08f,416px 111px #00f088,418px 111px #00f07e,420px 111px #00f061,422px 111px #01f048,424px 111px #05f030,426px 111px #08f116,428px 111px #14f106,430px 111px #2bf202,432px 111px #3ff200,434px 111px #86fd35,436px 111px #8ffe30,438px 111px #98fe2c,440px 111px #9fff28,442px 111px #c3fa0d,444px 111px #cff90d,446px 111px #dbf90b,448px 111px #e6f90a,450px 111px #f0f808,452px 111px #f8f704,454px 111px #f9f300,456px 111px #faf000,458px 111px #faec00,460px 111px #fbe900,462px 111px #fce600,464px 111px #fce200,466px 111px #fcde00,468px 111px #fcd900,470px 111px #fdd500,472px 111px #fed000,474px 111px #ffcb00,476px 111px #ffc500,478px 111px #ffc200,360px 113px #007c77,362px 113px #00837b,364px 113px #008a7f,366px 113px #009284,368px 113px #009a88,370px 113px #00a28d,372px 113px #00aa91,374px 113px #00b296,376px 113px #00ba9b,378px 113px #00c29f,380px 113px #00caa4,382px 113px #00d2a9,384px 113px #00daad,386px 113px #00e1b1,388px 113px #00e8b4,390px 113px #00edb8,392px 113px #00eeb7,394px 113px #00eeb5,396px 113px #00eeb3,398px 113px #00eeb1,400px 113px #00eeaf,402px 113px #00eead,404px 113px #00efaa,406px 113px #00efa8,408px 113px #00efa5,410px 113px #00efa1,412px 113px #00ef9c,414px 113px #00ef96,416px 113px #00f08e,418px 113px #00f085,420px 113px #00f066,422px 113px #00f04c,424px 113px #03f033,426px 113px #07f119,428px 113px #12f107,430px 113px #2af103,432px 113px #3ff200,434px 113px #85fd35,436px 113px #8ffe30,438px 113px #98fe2c,440px 113px #bafa19,442px 113px #c8fa19,444px 113px #d5fa19,446px 113px #e0f917,448px 113px #ebf916,450px 113px #f5f913,452px 113px #f9f60e,454px 113px #faf207,456px 113px #faee01,458px 113px #fbea00,460px 113px #fce700,462px 113px #fce400,464px 113px #fde100,466px 113px #fddd00,468px 113px #fdd900,470px 113px #fed400,472px 113px #ffd000,474px 113px #ffca00,476px 113px #ffc400,478px 113px #ffbf00,480px 113px #ffbc00,360px 115px #007c79,362px 115px #00817c,364px 115px #008981,366px 115px #009185,368px 115px #00998a,370px 115px #00a18e,372px 115px #00a893,374px 115px #00b097,376px 115px #00b89c,378px 115px #00c0a1,380px 115px #00c8a5,382px 115px #00d0aa,384px 115px #00d7ae,386px 115px #00dfb3,388px 115px #00e6b6,390px 115px #00ecba,392px 115px #00eeba,394px 115px #00eeb9,396px 115px #00eeb7,398px 115px #00eeb5,400px 115px #00eeb3,402px 115px #00eeb1,404px 115px #00eeaf,406px 115px #00efac,408px 115px #00efa9,410px 115px #00efa6,412px 115px #00efa2,414px 115px #00ef9c,416px 115px #00ef96,418px 115px #00f085,420px 115px #00f06b,422px 115px #00f051,424px 115px #02f037,426px 115px #06f01d,428px 115px #10f108,430px 115px #29f104,432px 115px #80fc46,434px 115px #88fd3c,436px 115px #90fe31,438px 115px #99fe2c,440px 115px #c0fa26,442px 115px #cefa26,444px 115px #dafa25,446px 115px #e6f923,448px 115px #f0f921,450px 115px #f9f81e,452px 115px #faf418,454px 115px #faf011,456px 115px #fbec0a,458px 115px #fbe803,460px 115px #fce500,462px 115px #fde100,464px 115px #fddf00,466px 115px #fedc00,468px 115px #fed800,470px 115px #ffd400,472px 115px #ffce00,474px 115px #ffc801,476px 115px #ffc301,478px 115px #ffbd00,480px 115px #ffb800,482px 115px #ffb500,360px 117px #007c7b,362px 117px #00807d,364px 117px #008882,366px 117px #009086,368px 117px #00978b,370px 117px #009f90,372px 117px #00a794,374px 117px #00ae99,376px 117px #00b69d,378px 117px #00bea2,380px 117px #00c5a6,382px 117px #00cdab,384px 117px #00d5af,386px 117px #00dcb4,388px 117px #00e4b8,390px 117px #00eabc,392px 117px #00eebe,394px 117px #00eebc,396px 117px #00eebb,398px 117px #00eeb9,400px 117px #00eeb7,402px 117px #00eeb5,404px 117px #00eeb3,406px 117px #00eeb1,408px 117px #00efae,410px 117px #00efab,412px 117px #00efa8,414px 117px #00efa2,416px 117px #00ef9c,418px 117px #00f088,420px 117px #00f071,422px 117px #00f058,424px 117px #01f03c,426px 117px #05f021,428px 117px #0ef109,430px 117px #28f104,432px 117px #86fc52,434px 117px #8ffd47,436px 117px #97fe3d,438px 117px #9dff32,440px 117px #c6fb32,442px 117px #d3fa32,444px 117px #e0fa31,446px 117px #ebfa2f,448px 117px #f5f92d,450px 117px #faf728,452px 117px #faf321,454px 117px #fbef1b,456px 117px #fceb14,458px 117px #fce70d,460px 117px #fde306,462px 117px #fddf00,464px 117px #fedc00,466px 117px #ffd900,468px 117px #ffd600,470px 117px #ffd101,472px 117px #ffcc01,474px 117px #ffc701,476px 117px #ffc101,478px 117px #ffbc01,480px 117px #ffb601,482px 117px #ffb100,484px 117px #ffaf00,360px 119px #007c7d,362px 119px #007f7f,364px 119px #008783,366px 119px #008e88,368px 119px #00968c,370px 119px #009d91,372px 119px #00a595,374px 119px #00ac9a,376px 119px #00b49f,378px 119px #00bca3,380px 119px #00c3a8,382px 119px #00cbac,384px 119px #00d2b1,386px 119px #00d9b5,388px 119px #00e1b9,390px 119px #00e8be,392px 119px #00edc1,394px 119px #00eec0,396px 119px #00eebe,398px 119px #00eebd,400px 119px #00eebb,402px 119px #00eeb9,404px 119px #00eeb7,406px 119px #00eeb5,408px 119px #00eeb3,410px 119px #00efb0,412px 119px #00efad,414px 119px #00efa9,416px 119px #00efa3,418px 119px #00ef8d,420px 119px #00f077,422px 119px #00f05f,424px 119px #00f043,426px 119px #03f026,428px 119px #0cf10a,430px 119px #27f105,432px 119px #8efc5f,434px 119px #95fd53,436px 119px #9dfe48,438px 119px #a4ff3e,440px 119px #ccfb3f,442px 119px #d9fb3f,444px 119px #e5fa3d,446px 119px #f0fa3b,448px 119px #faf939,450px 119px #faf532,452px 119px #fbf12b,454px 119px #fced24,456px 119px #fce91d,458px 119px #fde517,460px 119px #fde110,462px 119px #fedd09,464px 119px #ffd902,466px 119px #ffd600,468px 119px #ffd201,470px 119px #ffce02,472px 119px #ffc902,474px 119px #ffc402,476px 119px #ffbf02,478px 119px #ffba02,480px 119px #ffb502,482px 119px #ffaf01,484px 119px #ffaa00,486px 119px #ffa800,360px 121px #007c7f,362px 121px #007e80,364px 121px #008685,366px 121px #008d89,368px 121px #00958e,370px 121px #009c92,372px 121px #00a397,374px 121px #00ab9b,376px 121px #00b2a0,378px 121px #00b9a4,380px 121px #00c1a9,382px 121px #00c8ad,384px 121px #00cfb2,386px 121px #00d7b6,388px 121px #00debb,390px 121px #00e5bf,392px 121px #00ebc3,394px 121px #00eec4,396px 121px #00eec2,398px 121px #00eec1,400px 121px #00eebf,402px 121px #00eebe,404px 121px #00eebc,406px 121px #00eeba,408px 121px #00eeb7,410px 121px #00efb5,412px 121px #00efb2,414px 121px #00efae,416px 121px #00efa6,418px 121px #00ef91,420px 121px #00f07e,422px 121px #00f067,424px 121px #00f04a,426px 121px #02f02b,428px 121px #0af00d,430px 121px #92fc7d,432px 121px #95fd6b,434px 121px #9cfd5f,436px 121px #a4fe54,438px 121px #aaff49,440px 121px #d1fb4b,442px 121px #dffb4b,444px 121px #eafa49,446px 121px #f5fa47,448px 121px #faf843,450px 121px #fbf43c,452px 121px #fcef35,454px 121px #fceb2e,456px 121px #fde727,458px 121px #fde320,460px 121px #fee019,462px 121px #ffdc13,464px 121px #ffd70c,466px 121px #ffd205,468px 121px #ffcd02,470px 121px #ffc903,472px 121px #ffc603,474px 121px #ffc204,476px 121px #ffbd04,478px 121px #ffb804,480px 121px #ffb303,482px 121px #ffad02,484px 121px #ffa801,486px 121px #ffa300,488px 121px #ffa100,360px 123px #007c81,362px 123px #007d81,364px 123px #008586,366px 123px #008c8b,368px 123px #00938f,370px 123px #009a94,372px 123px #00a298,374px 123px #00a99d,376px 123px #00b0a1,378px 123px #00b7a6,380px 123px #00bfaa,382px 123px #00c6af,384px 123px #00cdb3,386px 123px #00d4b7,388px 123px #00dbbc,390px 123px #00e2c0,392px 123px #00e8c4,394px 123px #00edc7,396px 123px #00eec6,398px 123px #00eec5,400px 123px #00eec3,402px 123px #00eec2,404px 123px #00eec0,406px 123px #00eebe,408px 123px #00eebc,410px 123px #00eeba,412px 123px #00efb7,414px 123px #00efb4,416px 123px #00efa8,418px 123px #00ef97,420px 123px #00ef84,422px 123px #00f06f,424px 123px #00f053,426px 123px #00f031,428px 123px #07f011,430px 123px #99fc89,432px 123px #9cfd78,434px 123px #a3fd6b,436px 123px #aafe60,438px 123px #b1ff55,440px 123px #d7fb58,442px 123px #e4fb57,444px 123px #f0fb56,446px 123px #fafa53,448px 123px #fbf64c,450px 123px #fcf246,452px 123px #fcee3f,454px 123px #fdea38,456px 123px #fde631,458px 123px #fee22a,460px 123px #ffde23,462px 123px #ffd91c,464px 123px #ffd416,466px 123px #ffcf0f,468px 123px #ffc909,470px 123px #ffc404,472px 123px #ffc104,474px 123px #ffbe05,476px 123px #ffb905,478px 123px #ffb505,480px 123px #ffb005,482px 123px #ffab04,484px 123px #ffa603,486px 123px #ffa101,488px 123px #ff9c00,490px 123px #ff9a00,360px 125px #007c83,362px 125px #007c83,364px 125px #008387,366px 125px #008b8c,368px 125px #009291,370px 125px #009995,372px 125px #00a09a,374px 125px #00a79e,376px 125px #00aea3,378px 125px #00b6a7,380px 125px #00bdac,382px 125px #00c4b0,384px 125px #00cbb4,386px 125px #00d2b9,388px 125px #00d8bd,390px 125px #00dfc1,392px 125px #00e5c5,394px 125px #00ebc9,396px 125px #00edc9,398px 125px #00edc8,400px 125px #00eec7,402px 125px #00eec6,404px 125px #00eec4,406px 125px #00eec3,408px 125px #00eec1,410px 125px #00eebf,412px 125px #00eebc,414px 125px #00efb9,416px 125px #00efab,418px 125px #00ef9c,420px 125px #00ef8b,422px 125px #00ef77,424px 125px #00f05d,426px 125px #00f03a,428px 125px #9bfca9,430px 125px #a0fc96,432px 125px #a3fd85,434px 125px #a9fd77,436px 125px #b1fe6c,438px 125px #b8ff61,440px 125px #ddfc65,442px 125px #eafb64,444px 125px #f5fb62,446px 125px #fbf95d,448px 125px #fcf556,450px 125px #fcf04f,452px 125px #fdec48,454px 125px #fee842,456px 125px #fee43b,458px 125px #ffe034,460px 125px #ffdc2d,462px 125px #ffd626,464px 125px #ffd120,466px 125px #ffcb19,468px 125px #ffc613,470px 125px #ffc10c,472px 125px #ffbc06,474px 125px #ffb806,476px 125px #ffb507,478px 125px #ffb107,480px 125px #ffad07,482px 125px #ffa806,484px 125px #ffa305,486px 125px #ff9f03,488px 125px #ff9a02,490px 125px #ff9500,492px 125px #ff9300,362px 127px #007c84,364px 127px #008289,366px 127px #008a8d,368px 127px #009192,370px 127px #009897,372px 127px #009f9b,374px 127px #00a6a0,376px 127px #00ada4,378px 127px #00b4a9,380px 127px #00bbad,382px 127px #00c2b2,384px 127px #00c8b6,386px 127px #00cfba,388px 127px #00d6be,390px 127px #00dcc3,392px 127px #00e3c7,394px 127px #00e9ca,396px 127px #00edcd,398px 127px #00edcc,400px 127px #00edcb,402px 127px #00eeca,404px 127px #00eec9,406px 127px #00eec7,408px 127px #00eec6,410px 127px #00eec4,412px 127px #00eec1,414px 127px #00eebf,416px 127px #00efae,418px 127px #00efa1,420px 127px #00ef92,422px 127px #00ef7f,424px 127px #00f066,426px 127px #00f044,428px 127px #a2fcb6,430px 127px #a7fca4,432px 127px #aafd92,434px 127px #b0fe83,436px 127px #b8fe78,438px 127px #d5fc72,440px 127px #e3fc72,442px 127px #effb70,444px 127px #fafb6e,446px 127px #fcf768,448px 127px #fcf360,450px 127px #fdef59,452px 127px #feeb52,454px 127px #fee74b,456px 127px #ffe344,458px 127px #ffde3e,460px 127px #ffd837,462px 127px #ffd330,464px 127px #ffcd2a,466px 127px #ffc823,468px 127px #ffc31d,470px 127px #ffbd16,472px 127px #ffb810,474px 127px #ffb309,476px 127px #ffaf08,478px 127px #ffac09,480px 127px #ffa909,482px 127px #ffa508,484px 127px #ffa007,486px 127px #ff9b06,488px 127px #ff9604,490px 127px #ff9202,492px 127px #ff8d00,494px 127px #ff8b00,362px 129px #007b86,364px 129px #00818a,366px 129px #00888f,368px 129px #008f93,370px 129px #009698,372px 129px #009d9d,374px 129px #00a4a1,376px 129px #00aba6,378px 129px #00b2aa,380px 129px #00b9af,382px 129px #00bfb3,384px 129px #00c6b7,386px 129px #00cdbc,388px 129px #00d3c0,390px 129px #00dac4,392px 129px #00e0c8,394px 129px #00e6cc,396px 129px #00ebcf,398px 129px #00edcf,400px 129px #00edcf,402px 129px #00edce,404px 129px #00edcd,406px 129px #00eecc,408px 129px #00eeca,410px 129px #00eec9,412px 129px #00eec7,414px 129px #00eec0,416px 129px #00eeb3,418px 129px #00efa7,420px 129px #00ef99,422px 129px #00ef87,424px 129px #00ef70,426px 129px #00f050,428px 129px #aafcc4,430px 129px #aefcb2,432px 129px #b2fd9f,434px 129px #b7fe8f,436px 129px #bffe84,438px 129px #dbfc7f,440px 129px #e9fc7f,442px 129px #f4fc7d,444px 129px #fcfa79,446px 129px #fcf572,448px 129px #fdf16b,450px 129px #feed63,452px 129px #fee95c,454px 129px #ffe555,456px 129px #ffe04e,458px 129px #ffda48,460px 129px #ffd541,462px 129px #ffcf3a,464px 129px #ffca34,466px 129px #ffc52d,468px 129px #ffbf27,470px 129px #ffba20,472px 129px #ffb51a,474px 129px #ffaf13,476px 129px #ffaa0d,478px 129px #ffa60a,480px 129px #ffa30a,482px 129px #ffa00a,484px 129px #ff9c0a,486px 129px #ff9708,488px 129px #ff9307,490px 129px #ff8e05,492px 129px #ff8902,494px 129px #ff8500,496px 129px #ff8300,362px 131px #007b88,364px 131px #00808b,366px 131px #008790,368px 131px #008e95,370px 131px #009599,372px 131px #009c9e,374px 131px #00a3a3,376px 131px #00aaa7,378px 131px #00b0ac,380px 131px #00b7b0,382px 131px #00beb5,384px 131px #00c4b9,386px 131px #00cbbd,388px 131px #00d1c2,390px 131px #00d7c6,392px 131px #00ddca,394px 131px #00e3ce,396px 131px #00e9d1,398px 131px #00ecd3,400px 131px #00ecd2,402px 131px #00edd2,404px 131px #00edd1,406px 131px #00edd0,408px 131px #00edcf,410px 131px #00eece,412px 131px #00eecc,414px 131px #00eec3,416px 131px #00eeb8,418px 131px #00eead,420px 131px #00ef9f,422px 131px #00ef8f,424px 131px #00ef7a,426px 131px #acfadd,428px 131px #b1fcd2,430px 131px #b5fcbf,432px 131px #b9fdac,434px 131px #befe9c,436px 131px #c6fe90,438px 131px #e1fd8c,440px 131px #effc8c,442px 131px #fafc89,444px 131px #fcf883,446px 131px #fdf47c,448px 131px #fef075,450px 131px #feeb6d,452px 131px #ffe766,454px 131px #ffe25f,456px 131px #ffdc59,458px 131px #ffd752,460px 131px #ffd14b,462px 131px #ffcc45,464px 131px #ffc73e,466px 131px #ffc137,468px 131px #ffbc31,470px 131px #ffb62a,472px 131px #ffb124,474px 131px #ffac1d,476px 131px #ffa617,478px 131px #ffa010,480px 131px #ff9b0c,482px 131px #ff990c,484px 131px #ff960c,486px 131px #ff920b,488px 131px #ff8e0a,490px 131px #ff8a08,492px 131px #ff8606,494px 131px #ff8103,496px 131px #ff7d00,498px 131px #ff7c00,362px 133px #007b8a,364px 133px #007e8c,366px 133px #008591,368px 133px #008c96,370px 133px #00939b,372px 133px #009a9f,374px 133px #00a1a4,376px 133px #00a8a9,378px 133px #00aead,380px 133px #00b5b2,382px 133px #00bcb6,384px 133px #00c2bb,386px 133px #00c8bf,388px 133px #00cfc3,390px 133px #00d5c7,392px 133px #00dbcb,394px 133px #00e1cf,396px 133px #00e6d3,398px 133px #00ebd6,400px 133px #00ecd6,402px 133px #00ecd5,404px 133px #00ecd5,406px 133px #00edd4,408px 133px #00edd3,410px 133px #00edd2,412px 133px #00edd1,414px 133px #00eec7,416px 133px #00eebd,418px 133px #00eeb3,420px 133px #00eea7,422px 133px #00ef97,424px 133px #00ef84,426px 133px #affae4,428px 133px #b8fcdd,430px 133px #bcfdcd,432px 133px #c1fdba,434px 133px #c5fea8,436px 133px #cdff9d,438px 133px #e7fd9a,440px 133px #f4fc99,442px 133px #fcfb95,444px 133px #fdf68e,446px 133px #fef286,448px 133px #feee7f,450px 133px #ffea78,452px 133px #ffe471,454px 133px #ffdf6a,456px 133px #ffd963,458px 133px #ffd35c,460px 133px #ffce56,462px 133px #ffc84f,464px 133px #ffc348,466px 133px #ffbe42,468px 133px #ffb83b,470px 133px #ffb334,472px 133px #ffad2e,474px 133px #ffa727,476px 133px #ffa120,478px 133px #ff9b1a,480px 133px #ff9613,482px 133px #ff910e,484px 133px #ff8e0e,486px 133px #ff8c0e,488px 133px #ff880d,490px 133px #ff850b,492px 133px #ff8109,494px 133px #ff7c06,496px 133px #ff7803,498px 133px #ff7400,500px 133px #ff7300,362px 135px #007b8c,364px 135px #007d8d,366px 135px #008492,368px 135px #008b97,370px 135px #00919c,372px 135px #0098a1,374px 135px #009fa6,376px 135px #00a6aa,378px 135px #00acaf,380px 135px #00b3b3,382px 135px #00b9b8,384px 135px #00c0bc,386px 135px #00c6c1,388px 135px #00ccc5,390px 135px #00d2c9,392px 135px #00d8cd,394px 135px #00ded1,396px 135px #00e3d5,398px 135px #00e8d8,400px 135px #00ecda,402px 135px #00ecd9,404px 135px #00ecd9,406px 135px #00ecd8,408px 135px #00ecd7,410px 135px #00edd6,412px 135px #00edd4,414px 135px #00edcb,416px 135px #00eec3,418px 135px #00eeba,420px 135px #00eeaf,422px 135px #00eea0,424px 135px #00ef8d,426px 135px #b1faea,428px 135px #befbe6,430px 135px #c4fddb,432px 135px #c8fdc8,434px 135px #ccfeb5,436px 135px #d4ffa9,438px 135px #edfda7,440px 135px #fafda6,442px 135px #fdf99f,444px 135px #fef598,446px 135px #fef091,448px 135px #ffec89,450px 135px #ffe682,452px 135px #ffe17b,454px 135px #ffdb74,456px 135px #ffd56e,458px 135px #ffd067,460px 135px #ffca60,462px 135px #ffc559,464px 135px #ffbf53,466px 135px #ffb94c,468px 135px #ffb345,470px 135px #ffae3e,472px 135px #ffa838,474px 135px #ffa231,476px 135px #ff9c2a,478px 135px #ff9724,480px 135px #ff911d,482px 135px #ff8b16,484px 135px #ff8510,486px 135px #ff8310,488px 135px #ff8111,490px 135px #ff7d0f,492px 135px #ff7a0d,494px 135px #ff760b,496px 135px #ff7307,498px 135px #ff6f04,500px 135px #ff6b00,502px 135px #ff6a00,362px 137px #007b8f,364px 137px #007b8e,366px 137px #008293,368px 137px #008998,370px 137px #00909d,372px 137px #0096a2,374px 137px #009da7,376px 137px #00a4ac,378px 137px #00aab0,380px 137px #00b1b5,382px 137px #00b7b9,384px 137px #00bdbe,386px 137px #00c4c2,388px 137px #00cac7,390px 137px #00d0cb,392px 137px #00d6cf,394px 137px #00dbd3,396px 137px #00e1d7,398px 137px #00e6da,400px 137px #00eadd,402px 137px #00ebdd,404px 137px #00ebdd,406px 137px #00ecdc,408px 137px #00ecdc,410px 137px #00ecdb,412px 137px #00ecd6,414px 137px #00ecd0,416px 137px #00edc9,418px 137px #00edc1,420px 137px #00eeb7,422px 137px #00eeaa,424px 137px #a2f8f0,426px 137px #b2f9ef,428px 137px #c0fbed,430px 137px #cbfce7,432px 137px #cffdd7,434px 137px #d3fec3,436px 137px #dbffb6,438px 137px #f3fdb5,440px 137px #fdfcb2,442px 137px #fef7aa,444px 137px #fef3a3,446px 137px #ffee9b,448px 137px #ffe994,450px 137px #ffe38d,452px 137px #ffdd86,454px 137px #ffd77f,456px 137px #ffd278,458px 137px #ffcc71,460px 137px #ffc66a,462px 137px #ffc063,464px 137px #ffba5d,466px 137px #ffb456,468px 137px #ffaf4f,470px 137px #ffa948,472px 137px #ffa341,474px 137px #ff9d3b,476px 137px #ff9734,478px 137px #ff912e,480px 137px #ff8b27,482px 137px #ff8520,484px 137px #ff7f1a,486px 137px #ff7913,488px 137px #ff7712,490px 137px #ff7513,492px 137px #ff7212,494px 137px #ff6f0f,496px 137px #ff6c0c,498px 137px #ff6908,500px 137px #ff6604,502px 137px #ff6300,504px 137px #ff6200,364px 139px #007b90,366px 139px #008195,368px 139px #00879a,370px 139px #008e9f,372px 139px #0095a3,374px 139px #009ba8,376px 139px #00a2ad,378px 139px #00a8b2,380px 139px #00afb7,382px 139px #00b5bb,384px 139px #00bbc0,386px 139px #00c1c4,388px 139px #00c7c8,390px 139px #00cdcd,392px 139px #00d3d1,394px 139px #00d9d5,396px 139px #00ded9,398px 139px #00e3dc,400px 139px #00e8df,402px 139px #00ebe2,404px 139px #00ebe1,406px 139px #00ebe1,408px 139px #00ebe0,410px 139px #00ebe0,412px 139px #00ecda,414px 139px #00ecd5,416px 139px #00eccf,418px 139px #00ecc8,420px 139px #00edc0,422px 139px #00edb5,424px 139px #a0f7f4,426px 139px #b1f9f3,428px 139px #c1faf2,430px 139px #cffcef,432px 139px #d7fde5,434px 139px #dbfed1,436px 139px #e3ffc3,438px 139px #f9fdc3,440px 139px #fefabd,442px 139px #fff6b5,444px 139px #fff1ad,446px 139px #ffeba6,448px 139px #ffe59f,450px 139px #ffdf98,452px 139px #ffd991,454px 139px #ffd48a,456px 139px #ffcd83,458px 139px #ffc77c,460px 139px #ffc175,462px 139px #ffbb6e,464px 139px #ffb567,466px 139px #ffaf60,468px 139px #ffa959,470px 139px #ffa352,472px 139px #ff9d4c,474px 139px #ff9745,476px 139px #ff913e,478px 139px #ff8b38,480px 139px #ff8531,482px 139px #ff7f2b,484px 139px #ff7924,486px 139px #ff731d,488px 139px #ff6e17,490px 139px #ff6b14,492px 139px #ff6a15,494px 139px #ff6913,496px 139px #ff6711,498px 139px #ff640d,500px 139px #ff6109,502px 139px #ff5e05,504px 139px #fe5b00,506px 139px #fe5b00,364px 141px #007b92,366px 141px #007f96,368px 141px #00869b,370px 141px #008da0,372px 141px #0093a5,374px 141px #009aaa,376px 141px #00a0af,378px 141px #00a7b3,380px 141px #00adb8,382px 141px #00b3bd,384px 141px #00b9c1,386px 141px #00bfc6,388px 141px #00c5ca,390px 141px #00cbcf,392px 141px #00d1d3,394px 141px #00d6d7,396px 141px #00dbdb,398px 141px #00e0de,400px 141px #00e5e2,402px 141px #00e9e5,404px 141px #00ebe5,406px 141px #00ebe5,408px 141px #00ebe5,410px 141px #00ebe4,412px 141px #00ebdf,414px 141px #00ebdb,416px 141px #00ebd7,418px 141px #00ecd1,420px 141px #00ecca,422px 141px #91f4f7,424px 141px #a0f6f7,426px 141px #aff8f7,428px 141px #c0faf6,430px 141px #d1fcf5,432px 141px #defdf1,434px 141px #e3fee0,436px 141px #eaffd1,438px 141px #fefdd0,440px 141px #fff8c8,442px 141px #fff3c0,444px 141px #ffedb9,446px 141px #ffe7b1,448px 141px #ffe1aa,450px 141px #ffdba3,452px 141px #ffd59b,454px 141px #ffce94,456px 141px #ffc88d,458px 141px #ffc286,460px 141px #ffbc7f,462px 141px #ffb578,464px 141px #ffaf71,466px 141px #ffa96a,468px 141px #ffa364,470px 141px #ff9d5d,472px 141px #ff9756,474px 141px #ff914f,476px 141px #ff8c48,478px 141px #ff8641,480px 141px #ff803a,482px 141px #ff7b33,484px 141px #ff752c,486px 141px #ff7026,488px 141px #ff6a1f,490px 141px #ff6518,492px 141px #ff6316,494px 141px #ff6216,496px 141px #ff6115,498px 141px #ff5f12,500px 141px #ff5c0e,502px 141px #fe5a0a,504px 141px #fe5705,506px 141px #fe5400,508px 141px #fe5400,364px 143px #007b94,366px 143px #007e97,368px 143px #00859c,370px 143px #008ba1,372px 143px #0092a6,374px 143px #0098ab,376px 143px #009fb0,378px 143px #00a5b5,380px 143px #00abba,382px 143px #00b1bf,384px 143px #00b7c3,386px 143px #00bdc8,388px 143px #00c3cc,390px 143px #00c9d1,392px 143px #00ced5,394px 143px #00d4d9,396px 143px #00d9dd,398px 143px #00dee1,400px 143px #00e3e4,402px 143px #00e7e7,404px 143px #00eaea,406px 143px #00eaea,408px 143px #00eae9,410px 143px #00eae8,412px 143px #00eae5,414px 143px #00ebe2,416px 143px #00ebdf,418px 143px #00ebdb,420px 143px #00ebd6,422px 143px #92f2f9,424px 143px #a1f4f9,426px 143px #b0f6fa,428px 143px #bff9fa,430px 143px #cffbfa,432px 143px #e1fdf8,434px 143px #ecfeef,436px 143px #f8fee1,438px 143px #fffbdc,440px 143px #fff6d3,442px 143px #ffefcc,444px 143px #ffe9c4,446px 143px #ffe2bc,448px 143px #ffdcb5,450px 143px #ffd5ae,452px 143px #ffcfa6,454px 143px #ffc89f,456px 143px #ffc298,458px 143px #ffbc91,460px 143px #ffb68a,462px 143px #ffb082,464px 143px #ffaa7b,466px 143px #ffa474,468px 143px #ff9e6d,470px 143px #ff9966,472px 143px #ff935e,474px 143px #ff8d57,476px 143px #ff8850,478px 143px #ff8249,480px 143px #ff7d42,482px 143px #ff773c,484px 143px #ff7235,486px 143px #ff6c2e,488px 143px #ff6727,490px 143px #ff6120,492px 143px #ff5c19,494px 143px #ff5917,496px 143px #ff5917,498px 143px #ff5817,500px 143px #ff5613,502px 143px #fe540f,504px 143px #fe510b,506px 143px #fe4f06,508px 143px #fd4c00,510px 143px #fd4c00,364px 145px #007b96,366px 145px #007c98,368px 145px #00839d,370px 145px #008aa2,372px 145px #0090a8,374px 145px #0097ad,376px 145px #009db2,378px 145px #00a3b7,380px 145px #00a9bc,382px 145px #00afc0,384px 145px #00b5c5,386px 145px #00bbca,388px 145px #00c1ce,390px 145px #00c7d3,392px 145px #00ccd7,394px 145px #00d1db,396px 145px #00d7df,398px 145px #00dce3,400px 145px #00e0e7,402px 145px #00e5ea,404px 145px #00e8ed,406px 145px #00eaee,408px 145px #00eaee,410px 145px #00eaed,412px 145px #00eaec,414px 145px #00eaeb,416px 145px #00eae9,418px 145px #00eae7,420px 145px #00eae4,422px 145px #91f1fc,424px 145px #a1f3fc,426px 145px #b0f5fc,428px 145px #c0f7fc,430px 145px #d0fafc,432px 145px #e0fcfd,434px 145px #f2fefc,436px 145px #fffef1,438px 145px #fff8e8,440px 145px #fff1e0,442px 145px #ffead8,444px 145px #ffe3d0,446px 145px #ffdcc8,448px 145px #ffd6c0,450px 145px #ffd0b8,452px 145px #ffcab0,454px 145px #ffc3a9,456px 145px #ffbda1,458px 145px #ffb79a,460px 145px #ffb192,462px 145px #ffab8b,464px 145px #ffa684,466px 145px #ffa07d,468px 145px #ff9a75,470px 145px #ff946e,472px 145px #ff8e67,474px 145px #ff8960,476px 145px #ff8359,478px 145px #ff7d52,480px 145px #ff784b,482px 145px #ff7244,484px 145px #ff6c3d,486px 145px #ff6736,488px 145px #ff612f,490px 145px #ff5c29,492px 145px #ff5622,494px 145px #ff511b,496px 145px #ff4f18,498px 145px #ff4e19,500px 145px #ff4e18,502px 145px #ff4d15,504px 145px #fe4b11,506px 145px #fe480c,508px 145px #fd4606,510px 145px #fd4300,512px 145px #fd4300,364px 147px #007a98,366px 147px #007b99,368px 147px #00829e,370px 147px #0088a4,372px 147px #008fa9,374px 147px #0095ae,376px 147px #009bb3,378px 147px #00a2b8,380px 147px #00a8bd,382px 147px #00aec2,384px 147px #00b4c7,386px 147px #00b9cc,388px 147px #00bfd0,390px 147px #00c5d5,392px 147px #00cad9,394px 147px #00cfde,396px 147px #00d4e2,398px 147px #00d9e6,400px 147px #00deea,402px 147px #00e2ed,404px 147px #00e6f0,406px 147px #00e9f3,408px 147px #00e9f3,410px 147px #00e8f3,412px 147px #00e8f3,414px 147px #00e8f3,416px 147px #00e8f3,418px 147px #00e7f3,420px 147px #82edfe,422px 147px #91effe,424px 147px #a0f1fe,426px 147px #aff3fe,428px 147px #bff6ff,430px 147px #cff8ff,432px 147px #e0faff,434px 147px #f2fcff,436px 147px #fef7fc,438px 147px #ffeff5,440px 147px #ffe9ec,442px 147px #ffe2e3,444px 147px #ffdcda,446px 147px #ffd5d2,448px 147px #ffcfca,450px 147px #ffc9c2,452px 147px #ffc3ba,454px 147px #ffbcb2,456px 147px #ffb6ab,458px 147px #ffb0a3,460px 147px #ffaa9c,462px 147px #ffa494,464px 147px #ff9f8d,466px 147px #ff9986,468px 147px #ff937e,470px 147px #ff8d77,472px 147px #ff8770,474px 147px #ff8269,476px 147px #ff7c62,478px 147px #ff765b,480px 147px #ff7154,482px 147px #ff6b4d,484px 147px #ff6546,486px 147px #ff603f,488px 147px #ff5a38,490px 147px #ff5531,492px 147px #ff4f2a,494px 147px #ff4a24,496px 147px #ff441d,498px 147px #ff421a,500px 147px #ff431a,502px 147px #ff431a,504px 147px #ff4217,506px 147px #fe4012,508px 147px #fd3e0d,510px 147px #fd3c07,512px 147px #fc3900,514px 147px #fc3900,366px 149px #007a9a,368px 149px #00809f,370px 149px #0087a5,372px 149px #008daa,374px 149px #0093af,376px 149px #0099b4,378px 149px #009fb9,380px 149px #00a5be,382px 149px #00abc3,384px 149px #00b0c7,386px 149px #00b6cc,388px 149px #00bbd1,390px 149px #00c1d5,392px 149px #00c6da,394px 149px #00cbde,396px 149px #00d0e2,398px 149px #00d4e6,400px 149px #00d9e9,402px 149px #00dded,404px 149px #00e0f0,406px 149px #00e4f3,408px 149px #00e4f4,410px 149px #00e2f4,412px 149px #00e0f4,414px 149px #00def4,416px 149px #00dcf4,418px 149px #00d8f4,420px 149px #82ebff,422px 149px #91edff,424px 149px #a0efff,426px 149px #b0f0ff,428px 149px #c0f2ff,430px 149px #d0f4ff,432px 149px #e1f6ff,434px 149px #f6f1ff,436px 149px #fae9fc,438px 149px #fce3f6,440px 149px #fdddf0,442px 149px #fed6e9,444px 149px #fecfe2,446px 149px #fec9dc,448px 149px #ffc1d5,450px 149px #ffbacf,452px 149px #ffb5c8,454px 149px #ffb1bf,456px 149px #ffacb7,458px 149px #ffa7af,460px 149px #ffa1a7,462px 149px #ff9b9f,464px 149px #ff9597,466px 149px #ff9090,468px 149px #ff8989,470px 149px #ff8381,472px 149px #ff7d7a,474px 149px #ff7773,476px 149px #ff726b,478px 149px #ff6c64,480px 149px #ff665d,482px 149px #ff6156,484px 149px #ff5c4f,486px 149px #ff5648,488px 149px #ff5141,490px 149px #ff4b3a,492px 149px #ff4633,494px 149px #ff412d,496px 149px #ff3b26,498px 149px #ff361f,500px 149px #ff341c,502px 149px #ff351c,504px 149px #ff361c,506px 149px #ff3519,508px 149px #fe3414,510px 149px #fd320e,512px 149px #fc3007,514px 149px #fb2e00,516px 149px #fb2f00,366px 151px #007a9c,368px 151px #007fa0,370px 151px #0085a6,372px 151px #008bab,374px 151px #0091b0,376px 151px #0097b5,378px 151px #009dba,380px 151px #00a2bf,382px 151px #00a8c3,384px 151px #00adc8,386px 151px #00b3cd,388px 151px #00b8d1,390px 151px #00bdd6,392px 151px #00c2da,394px 151px #00c7de,396px 151px #00cbe2,398px 151px #00d0e6,400px 151px #00d4e9,402px 151px #00d7ed,404px 151px #00dbf0,406px 151px #00def3,408px 151px #00def4,410px 151px #00daf4,412px 151px #00d7f4,414px 151px #00d3f4,416px 151px #00cef4,418px 151px #00c8f4,420px 151px #83e8ff,422px 151px #92eaff,424px 151px #a1ebff,426px 151px #b1edff,428px 151px #c0efff,430px 151px #d1f0ff,432px 151px #e7efff,434px 151px #f2e4fe,436px 151px #f6ddfb,438px 151px #f9d6f7,440px 151px #fad0f1,442px 151px #fbcbea,444px 151px #fcc4e4,446px 151px #fcbede,448px 151px #fdb8d8,450px 151px #fdb2d1,452px 151px #fdabcb,454px 151px #fea5c5,456px 151px #fe9ebf,458px 151px #fe97b9,460px 151px #ff90b3,462px 151px #ff8aad,464px 151px #ff86a6,466px 151px #ff809f,468px 151px #ff7c96,470px 151px #ff798e,472px 151px #ff7486,474px 151px #ff6f7f,476px 151px #ff6a77,478px 151px #ff6570,480px 151px #ff5f68,482px 151px #ff5a61,484px 151px #ff545a,486px 151px #ff4f53,488px 151px #ff494b,490px 151px #ff4444,492px 151px #ff3e3d,494px 151px #ff3836,496px 151px #ff332f,498px 151px #ff2d28,500px 151px #ff2722,502px 151px #ff261f,504px 151px #ff271f,506px 151px #ff271f,508px 151px #ff271c,510px 151px #fe2616,512px 151px #fd240f,514px 151px #fb2308,516px 151px #fa2100,518px 151px #fa2200,366px 153px #007a9e,368px 153px #007da1,370px 153px #0083a6,372px 153px #0089ac,374px 153px #008fb1,376px 153px #0095b6,378px 153px #009aba,380px 153px #00a0bf,382px 153px #00a5c4,384px 153px #00aac8,386px 153px #00afcd,388px 153px #00b4d1,390px 153px #00b9d6,392px 153px #00bdda,394px 153px #00c2de,396px 153px #00c6e2,398px 153px #00cae5,400px 153px #00cee9,402px 153px #00d2ec,404px 153px #00d5ef,406px 153px #00d8f2,408px 153px #00d6f4,410px 153px #00d2f4,412px 153px #00cdf4,414px 153px #00c7f4,416px 153px #00c0f4,418px 153px #75e3ff,420px 153px #84e5ff,422px 153px #93e6ff,424px 153px #a2e8ff,426px 153px #b1e9ff,428px 153px #c3eaff,430px 153px #d6eaff,432px 153px #ebdfff,434px 153px #efd7fd,436px 153px #f2d0fb,438px 153px #f5caf7,440px 153px #f7c4f2,442px 153px #f8bfec,444px 153px #fab9e5,446px 153px #fbb3df,448px 153px #fbadd9,450px 153px #fba7d3,452px 153px #fca1cd,454px 153px #fc9bc7,456px 153px #fc95c1,458px 153px #fc8fbb,460px 153px #fd89b5,462px 153px #fd83af,464px 153px #fd7ca9,466px 153px #fe76a4,468px 153px #fe6f9e,470px 153px #fe6898,472px 153px #fe6292,474px 153px #ff5c8c,476px 153px #ff5886,478px 153px #ff547e,480px 153px #ff4d77,482px 153px #ff4a6f,484px 153px #ff4767,486px 153px #ff4360,488px 153px #ff3f58,490px 153px #ff3a51,492px 153px #ff3549,494px 153px #ff3042,496px 153px #ff2b3b,498px 153px #ff2634,500px 153px #ff212d,502px 153px #ff1c27,504px 153px #ff1e26,506px 153px #ff1f25,508px 153px #ff1f24,510px 153px #fe2022,512px 153px #fc1f1c,514px 153px #fa1e14,516px 153px #f81c0c,518px 153px #f61a03,520px 153px #f61b03,366px 155px #007aa0,368px 155px #007ca2,370px 155px #0081a7,372px 155px #0087ac,374px 155px #008cb1,376px 155px #0092b6,378px 155px #0097bb,380px 155px #009cbf,382px 155px #00a1c4,384px 155px #00a6c8,386px 155px #00abcd,388px 155px #00b0d1,390px 155px #00b4d5,392px 155px #00b9d9,394px 155px #00bddd,396px 155px #00c1e1,398px 155px #00c5e5,400px 155px #00c9e8,402px 155px #00ccec,404px 155px #00cfef,406px 155px #00d2f2,408px 155px #00cef4,410px 155px #00c9f4,412px 155px #00c3f5,414px 155px #00bbf5,416px 155px #00b2f5,418px 155px #76e0ff,420px 155px #85e1ff,422px 155px #93e2ff,424px 155px #a2e4ff,426px 155px #b4e5ff,428px 155px #c7e5ff,430px 155px #e0e0ff,432px 155px #e7d2ff,434px 155px #ebcbfd,436px 155px #eec4fa,438px 155px #f1bef6,440px 155px #f4b9f3,442px 155px #f5b3ed,444px 155px #f6ade7,446px 155px #f8a8e1,448px 155px #f9a2db,450px 155px #fa9dd5,452px 155px #fa97cf,454px 155px #fa91c9,456px 155px #fa8bc3,458px 155px #fb85bd,460px 155px #fb7fb7,462px 155px #fb79b1,464px 155px #fc74ab,466px 155px #fc6ea6,468px 155px #fc68a0,470px 155px #fc619a,472px 155px #fd5b94,474px 155px #fd558f,476px 155px #fd4e89,478px 155px #fe4884,480px 155px #fe427e,482px 155px #fe3b78,484px 155px #fe3573,486px 155px #ff2f6d,488px 155px #ff2c66,490px 155px #ff285f,492px 155px #ff2358,494px 155px #ff1c52,496px 155px #ff194a,498px 155px #ff1642,500px 155px #ff133a,502px 155px #ff0f32,504px 155px #ff1030,506px 155px #ff122e,508px 155px #ff142d,510px 155px #ff162c,512px 155px #fe1729,514px 155px #fb1723,516px 155px #f7161a,518px 155px #f31611,520px 155px #ef1508,522px 155px #f01507,366px 157px #0079a2,368px 157px #007aa2,370px 157px #007fa7,372px 157px #0084ac,374px 157px #008ab1,376px 157px #008fb6,378px 157px #0094bb,380px 157px #0099bf,382px 157px #009ec4,384px 157px #00a3c8,386px 157px #00a7cd,388px 157px #00acd1,390px 157px #00b0d5,392px 157px #00b4d9,394px 157px #00b9dd,396px 157px #00bce1,398px 157px #00c0e5,400px 157px #00c4e8,402px 157px #00c7ec,404px 157px #00caef,406px 157px #00cbf2,408px 157px #00c6f4,410px 157px #00c0f5,412px 157px #00b8f5,414px 157px #00aff5,416px 157px #68daff,418px 157px #76dcff,420px 157px #85ddff,422px 157px #94dfff,424px 157px #a6dfff,426px 157px #b9dfff,428px 157px #cedbff,430px 157px #e0ceff,432px 157px #e4c6fe,434px 157px #e7bffc,436px 157px #eab9f9,438px 157px #edb3f5,440px 157px #f0adf2,442px 157px #f2a7ed,444px 157px #f3a2e8,446px 157px #f59de2,448px 157px #f697dc,450px 157px #f792d6,452px 157px #f88cd0,454px 157px #f987ca,456px 157px #f981c4,458px 157px #f97bbf,460px 157px #f975b9,462px 157px #fa6fb3,464px 157px #fa6aad,466px 157px #fa64a8,468px 157px #fa5ea2,470px 157px #fb599c,472px 157px #fb5396,474px 157px #fb4d91,476px 157px #fc478b,478px 157px #fc4185,480px 157px #fc3b80,482px 157px #fc357a,484px 157px #fd2e75,486px 157px #fd286f,488px 157px #fd226a,490px 157px #fe1c64,492px 157px #fe155f,494px 157px #fe0f59,496px 157px #fe0954,498px 157px #ff034e,500px 157px #ff0048,502px 157px #ff0042,504px 157px #ff003f,506px 157px #ff003d,508px 157px #ff003c,510px 157px #ff0439,512px 157px #ff0737,514px 157px #fe0a34,516px 157px #f90c2c,518px 157px #f30d22,520px 157px #ed0d19,522px 157px #e70d0e,524px 157px #e80e0d,368px 159px #0078a4,370px 159px #007da8,372px 159px #0082ad,374px 159px #0087b2,376px 159px #008cb6,378px 159px #0091bb,380px 159px #0096c0,382px 159px #009bc4,384px 159px #009fc9,386px 159px #00a4cd,388px 159px #00a8d1,390px 159px #00acd5,392px 159px #00b0d9,394px 159px #00b4dd,396px 159px #00b8e1,398px 159px #00bce5,400px 159px #00bfe8,402px 159px #00c2ec,404px 159px #00c5ef,406px 159px #00c3f2,408px 159px #00bef4,410px 159px #00b6f5,412px 159px #00adf5,414px 159px #00a1f5,416px 159px #68d7ff,418px 159px #77d8ff,420px 159px #86d9ff,422px 159px #98daff,424px 159px #aadaff,426px 159px #bfd8ff,428px 159px #dacbff,430px 159px #ddc1ff,432px 159px #e0bafd,434px 159px #e4b3fb,436px 159px #e7adf8,438px 159px #e9a7f5,440px 159px #eca2f1,442px 159px #ef9cee,444px 159px #f097e8,446px 159px #f291e3,448px 159px #f38cdd,450px 159px #f487d7,452px 159px #f581d1,454px 159px #f67ccb,456px 159px #f777c6,458px 159px #f771c0,460px 159px #f86bba,462px 159px #f866b5,464px 159px #f860af,466px 159px #f95aa9,468px 159px #f955a4,470px 159px #f94f9e,472px 159px #f94998,474px 159px #fa4493,476px 159px #fa3e8d,478px 159px #fa3987,480px 159px #fa3382,482px 159px #fb2d7c,484px 159px #fb2777,486px 159px #fb2171,488px 159px #fc1b6c,490px 159px #fc1566,492px 159px #fc0f61,494px 159px #fc095b,496px 159px #fd0356,498px 159px #fd0053,500px 159px #fd0052,502px 159px #fe0050,504px 159px #fe004f,506px 159px #fe004e,508px 159px #fe004d,510px 159px #ff004c,512px 159px #ff004b,514px 159px #ff0043,516px 159px #fe0040,518px 159px #f60037,520px 159px #ec002e,522px 159px #e30023,524px 159px #da0317,526px 159px #dd0515,368px 161px #0078a5,370px 161px #007ba8,372px 161px #0080ad,374px 161px #0085b2,376px 161px #0089b7,378px 161px #008ebb,380px 161px #0093c0,382px 161px #0097c4,384px 161px #009cc9,386px 161px #00a0cd,388px 161px #00a4d1,390px 161px #00a8d5,392px 161px #00acd9,394px 161px #00b0dd,396px 161px #00b4e1,398px 161px #00b7e5,400px 161px #00bae8,402px 161px #00beec,404px 161px #00c0ef,406px 161px #00bbf2,408px 161px #00b4f4,410px 161px #00acf5,412px 161px #00a1f5,414px 161px #0093f6,416px 161px #69d3ff,418px 161px #79d4ff,420px 161px #8bd5ff,422px 161px #9cd5ff,424px 161px #afd4ff,426px 161px #c8cdff,428px 161px #d6beff,430px 161px #d9b6fe,432px 161px #ddaffc,434px 161px #e0a8fa,436px 161px #e3a2f7,438px 161px #e69cf4,440px 161px #e897f1,442px 161px #eb91ed,444px 161px #ed8ce9,446px 161px #ef86e3,448px 161px #f081de,450px 161px #f17cd8,452px 161px #f277d2,454px 161px #f371cd,456px 161px #f56cc7,458px 161px #f667c1,460px 161px #f661bc,462px 161px #f65cb6,464px 161px #f756b0,466px 161px #f751ab,468px 161px #f74ba5,470px 161px #f845a0,472px 161px #f8409a,474px 161px #f83a95,476px 161px #f8358f,478px 161px #f92f89,480px 161px #f92a84,482px 161px #f9247e,484px 161px #f91f79,486px 161px #fa1973,488px 161px #fa146e,490px 161px #fa0e68,492px 161px #fb0863,494px 161px #fb025d,496px 161px #fb005b,498px 161px #fb0059,500px 161px #fc0058,502px 161px #fc0056,504px 161px #fc0055,506px 161px #fd0054,508px 161px #fd0053,510px 161px #fd0052,512px 161px #fe0051,514px 161px #fb004e,516px 161px #f30049,518px 161px #e70042,520px 161px #da003a,522px 161px #cc0031,524px 161px #bc0028,526px 161px #b90019,528px 161px #c40019,368px 163px #0077a7,370px 163px #0078a9,372px 163px #007dad,374px 163px #0082b2,376px 163px #0087b7,378px 163px #008cbb,380px 163px #0090c0,382px 163px #0094c5,384px 163px #0099c9,386px 163px #009dcd,388px 163px #00a1d1,390px 163px #00a5d6,392px 163px #00a9da,394px 163px #00acde,396px 163px #00b0e1,398px 163px #00b3e5,400px 163px #00b6e9,402px 163px #00b9ec,404px 163px #00bbef,406px 163px #00b2f2,408px 163px #00abf4,410px 163px #00a1f5,412px 163px #0094f6,414px 163px #5bceff,416px 163px #6ccfff,418px 163px #7dcfff,420px 163px #8ed0ff,422px 163px #a1cfff,424px 163px #b8c9ff,426px 163px #d0baff,428px 163px #d2b1ff,430px 163px #d6aafd,432px 163px #d9a3fb,434px 163px #dd9dfa,436px 163px #df97f7,438px 163px #e291f3,440px 163px #e58cf0,442px 163px #e886ed,444px 163px #ea81e9,446px 163px #ec7be4,448px 163px #ed76df,450px 163px #ee71d9,452px 163px #ef6cd3,454px 163px #f067ce,456px 163px #f261c8,458px 163px #f35cc2,460px 163px #f457bd,462px 163px #f552b7,464px 163px #f54cb2,466px 163px #f547ac,468px 163px #f641a7,470px 163px #f63ca1,472px 163px #f6369c,474px 163px #f63196,476px 163px #f72b91,478px 163px #f7268b,480px 163px #f72086,482px 163px #f81b80,484px 163px #f8157b,486px 163px #f81075,488px 163px #f80a70,490px 163px #f9056a,492px 163px #f90065,494px 163px #f90063,496px 163px #fa0061,498px 163px #fa005f,500px 163px #fa005d,502px 163px #fb005c,504px 163px #fb005b,506px 163px #fb005a,508px 163px #fb0058,510px 163px #f40053,512px 163px #ea004c,514px 163px #de0044,516px 163px #d1003c,518px 163px #c20033,520px 163px #b3002a,522px 163px #a20020,524px 163px #9d001d,526px 163px #9e001c,368px 165px #0076a8,370px 165px #0076a9,372px 165px #007bae,374px 165px #0080b3,376px 165px #0084b7,378px 165px #0089bc,380px 165px #008dc0,382px 165px #0091c5,384px 165px #0096c9,386px 165px #009acd,388px 165px #009dd2,390px 165px #00a1d6,392px 165px #00a5da,394px 165px #00a8de,396px 165px #00ace2,398px 165px #00afe5,400px 165px #00b1e9,402px 165px #00b4ec,404px 165px #00b1ef,406px 165px #00a9f2,408px 165px #00a1f5,410px 165px #0096f6,412px 165px #0088f6,414px 165px #5fcaff,416px 165px #70caff,418px 165px #81cbff,420px 165px #93caff,422px 165px #a8c6ff,424px 165px #c2c0ff,426px 165px #ccaeff,428px 165px #cfa6fe,430px 165px #d29ffc,432px 165px #d698fb,434px 165px #d991f9,436px 165px #dc8cf6,438px 165px #df86f3,440px 165px #e181ef,442px 165px #e47bec,444px 165px #e776e9,446px 165px #e970e5,448px 165px #ea6bdf,450px 165px #eb66da,452px 165px #ec61d4,454px 165px #ee5ccf,456px 165px #ef57c9,458px 165px #f052c3,460px 165px #f14dbe,462px 165px #f248b8,464px 165px #f343b3,466px 165px #f43dad,468px 165px #f438a8,470px 165px #f432a2,472px 165px #f52d9d,474px 165px #f52798,476px 165px #f52292,478px 165px #f51c8d,480px 165px #f61787,482px 165px #f61182,484px 165px #f60c7c,486px 165px #f70677,488px 165px #f70171,490px 165px #f7006e,492px 165px #f8006c,494px 165px #f8006a,496px 165px #f80068,498px 165px #f90066,500px 165px #f90064,502px 165px #f90062,504px 165px #f4005d,506px 165px #eb0056,508px 165px #e0004f,510px 165px #d40047,512px 165px #c7003f,514px 165px #b90036,516px 165px #a9002c,518px 165px #9a0023,520px 165px #9a0022,522px 165px #9b0021,370px 167px #0075aa,372px 167px #0079ae,374px 167px #007eb3,376px 167px #0082b8,378px 167px #0086bc,380px 167px #008bc1,382px 167px #008fc5,384px 167px #0093c9,386px 167px #0096ce,388px 167px #009ad2,390px 167px #009ed6,392px 167px #00a1da,394px 167px #00a4de,396px 167px #00a7e2,398px 167px #00aae5,400px 167px #00ace9,402px 167px #00afec,404px 167px #00a9ef,406px 167px #00a0f2,408px 167px #0097f5,410px 167px #008af6,412px 167px #007af6,414px 167px #62c5ff,416px 167px #73c6ff,418px 167px #85c5ff,420px 167px #99c2ff,422px 167px #b2bbff,424px 167px #c6abff,426px 167px #c8a1ff,428px 167px #cc9afd,430px 167px #cf94fc,432px 167px #d28dfa,434px 167px #d686f8,436px 167px #d881f5,438px 167px #db7bf2,440px 167px #de76ef,442px 167px #e070eb,444px 167px #e36be8,446px 167px #e666e5,448px 167px #e761e0,450px 167px #e85bdb,452px 167px #ea56d5,454px 167px #eb51d0,456px 167px #ec4cca,458px 167px #ed47c4,460px 167px #ee42bf,462px 167px #ef3db9,464px 167px #f038b4,466px 167px #f233ae,468px 167px #f32ea9,470px 167px #f329a4,472px 167px #f3239e,474px 167px #f31e99,476px 167px #f41893,478px 167px #f4138e,480px 167px #f40d89,482px 167px #f40883,484px 167px #f5037e,486px 167px #f5007a,488px 167px #f60077,490px 167px #f60075,492px 167px #f60073,494px 167px #f70070,496px 167px #f7006e,498px 167px #f3006a,500px 167px #eb0063,502px 167px #e2005b,504px 167px #d70053,506px 167px #cb004a,508px 167px #bd0041,510px 167px #af0038,512px 167px #a0002e,514px 167px #960027,516px 167px #970027,518px 167px #970026,370px 169px #0074ab,372px 169px #0077af,374px 169px #007bb3,376px 169px #0080b8,378px 169px #0084bd,380px 169px #0088c1,382px 169px #008cc5,384px 169px #0090ca,386px 169px #0093ce,388px 169px #0097d2,390px 169px #009ad6,392px 169px #009dda,394px 169px #00a0de,396px 169px #00a3e2,398px 169px #00a5e6,400px 169px #00a8e9,402px 169px #00aaed,404px 169px #00a0f0,406px 169px #0097f3,408px 169px #008cf5,410px 169px #007df6,412px 169px #55c0ff,414px 169px #66c1ff,416px 169px #78c0ff,418px 169px #8bbeff,420px 169px #a2b8ff,422px 169px #c0a7ff,424px 169px #c29eff,426px 169px #c596fe,428px 169px #c88ffd,430px 169px #cc89fb,432px 169px #cf82f9,434px 169px #d27bf7,436px 169px #d576f4,438px 169px #d871f1,440px 169px #da6bee,442px 169px #dd66eb,444px 169px #df60e8,446px 169px #e25be4,448px 169px #e556e1,450px 169px #e651db,452px 169px #e74cd6,454px 169px #e847d0,456px 169px #e942cb,458px 169px #ea3dc5,460px 169px #eb38c0,462px 169px #ec33ba,464px 169px #ee2eb5,466px 169px #ef29b0,468px 169px #f024aa,470px 169px #f11fa5,472px 169px #f21a9f,474px 169px #f2149a,476px 169px #f20f95,478px 169px #f2098f,480px 169px #f3048a,482px 169px #f30085,484px 169px #f40083,486px 169px #f40080,488px 169px #f4007d,490px 169px #f5007b,492px 169px #f20076,494px 169px #eb0070,496px 169px #e20068,498px 169px #d80060,500px 169px #cd0057,502px 169px #c1004e,504px 169px #b40044,506px 169px #a6003a,508px 169px #970030,510px 169px #93002c,512px 169px #94002b,370px 171px #0074ad,372px 171px #0075af,374px 171px #0079b4,376px 171px #007eb8,378px 171px #0082bd,380px 171px #0085c1,382px 171px #0089c6,384px 171px #008dca,386px 171px #0090cf,388px 171px #0093d3,390px 171px #0096d7,392px 171px #0099db,394px 171px #009cdf,396px 171px #009ee2,398px 171px #00a1e6,400px 171px #00a3ea,402px 171px #00a3ed,404px 171px #0098f0,406px 171px #008df3,408px 171px #0080f5,410px 171px #0070f6,412px 171px #59bcff,414px 171px #6bbbff,416px 171px #7dbaff,418px 171px #92b5ff,420px 171px #abafff,422px 171px #bc9bff,424px 171px #bf92ff,426px 171px #c28bfe,428px 171px #c584fc,430px 171px #c87efa,432px 171px #cc77f8,434px 171px #cf71f7,436px 171px #d26bf4,438px 171px #d466f1,440px 171px #d761ed,442px 171px #d95bea,444px 171px #dc56e7,446px 171px #de51e4,448px 171px #e14be0,450px 171px #e346dc,452px 171px #e441d7,454px 171px #e53cd1,456px 171px #e637cc,458px 171px #e732c6,460px 171px #e92dc1,462px 171px #ea28bb,464px 171px #eb23b6,466px 171px #ec1eb1,468px 171px #ed19ab,470px 171px #ee15a6,472px 171px #ef10a0,474px 171px #f00b9b,476px 171px #f10596,478px 171px #f10090,480px 171px #f2008e,482px 171px #f2008b,484px 171px #f30088,486px 171px #f00083,488px 171px #ea007c,490px 171px #e20075,492px 171px #d9006c,494px 171px #cf0063,496px 171px #c4005a,498px 171px #b80050,500px 171px #ab0046,502px 171px #9d003c,504px 171px #8f0032,506px 171px #900031,508px 171px #900030,370px 173px #0073ae,372px 173px #0073af,374px 173px #0077b4,376px 173px #007bb9,378px 173px #007fbd,380px 173px #0083c2,382px 173px #0086c6,384px 173px #008acb,386px 173px #008dcf,388px 173px #0090d3,390px 173px #0093d7,392px 173px #0095db,394px 173px #0098df,396px 173px #009ae3,398px 173px #009ce7,400px 173px #009fea,402px 173px #0099ed,404px 173px #008ef0,406px 173px #0083f3,408px 173px #0074f5,410px 173px #4cb7ff,412px 173px #5eb6ff,414px 173px #6fb6ff,416px 173px #84b1ff,418px 173px #9caaff,420px 173px #b698ff,422px 173px #b98fff,424px 173px #bb86ff,426px 173px #be80fd,428px 173px #c279fb,430px 173px #c573f9,432px 173px #c86cf8,434px 173px #cc66f6,436px 173px #ce61f3,438px 173px #d15bf0,440px 173px #d356ed,442px 173px #d651e9,444px 173px #d84be6,446px 173px #db46e3,448px 173px #de41e0,450px 173px #e03cdd,452px 173px #e137d7,454px 173px #e232d2,456px 173px #e42dcd,458px 173px #e528c7,460px 173px #e623c2,462px 173px #e71ebc,464px 173px #e819b7,466px 173px #e914b2,468px 173px #ea0fac,470px 173px #eb0aa7,472px 173px #ec05a2,474px 173px #ee019c,476px 173px #ef0099,478px 173px #f00095,480px 173px #ee0090,482px 173px #e80089,484px 173px #e10081,486px 173px #d90079,488px 173px #d00070,490px 173px #c50067,492px 173px #ba005d,494px 173px #ae0053,496px 173px #a20049,498px 173px #94003e,500px 173px #8c0037,502px 173px #8d0036,504px 173px #8d0035,372px 175px #0072b0,374px 175px #0075b5,376px 175px #0079b9,378px 175px #007dbe,380px 175px #0080c2,382px 175px #0083c7,384px 175px #0086cb,386px 175px #0089cf,388px 175px #008cd4,390px 175px #008fd8,392px 175px #0091dc,394px 175px #0094e0,396px 175px #0096e3,398px 175px #0098e7,400px 175px #009aea,402px 175px #0090ed,404px 175px #0085f0,406px 175px #0078f3,408px 175px #0068f5,410px 175px #50b1ff,412px 175px #62b1ff,414px 175px #76adff,416px 175px #8ca7ff,418px 175px #a6a3ff,420px 175px #b38cff,422px 175px #b583ff,424px 175px #b87cfe,426px 175px #bb75fc,428px 175px #bf6ffa,430px 175px #c268f9,432px 175px #c562f7,434px 175px #c85bf5,436px 175px #cb56f2,438px 175px #cd51ef,440px 175px #d04cec,442px 175px #d246e9,444px 175px #d541e6,446px 175px #d73ce3,448px 175px #da37df,450px 175px #dd32dc,452px 175px #df2cd8,454px 175px #e027d3,456px 175px #e123cd,458px 175px #e21ec8,460px 175px #e319c3,462px 175px #e414bd,464px 175px #e50fb8,466px 175px #e60ab3,468px 175px #e705ad,470px 175px #e900a8,472px 175px #ea00a4,474px 175px #e9009f,476px 175px #e40097,478px 175px #df008f,480px 175px #d80086,482px 175px #d0007d,484px 175px #c60073,486px 175px #bc006a,488px 175px #b10060,490px 175px #a60055,492px 175px #99004b,494px 175px #8c0040,496px 175px #89003c,498px 175px #89003b,372px 177px #0071b2,374px 177px #0073b5,376px 177px #0077ba,378px 177px #007abe,380px 177px #007dc3,382px 177px #0080c7,384px 177px #0083cc,386px 177px #0086d0,388px 177px #0089d4,390px 177px #008bd8,392px 177px #008edc,394px 177px #0090e0,396px 177px #0092e4,398px 177px #0094e7,400px 177px #0095ea,402px 177px #0087ed,404px 177px #007bf0,406px 177px #006df3,408px 177px #005bf5,410px 177px #55acff,412px 177px #68a9ff,414px 177px #7da4ff,416px 177px #969eff,418px 177px #ad89ff,420px 177px #af80ff,422px 177px #b177ff,424px 177px #b571fd,426px 177px #b86afb,428px 177px #bb64fa,430px 177px #bf5df8,432px 177px #c257f6,434px 177px #c551f5,436px 177px #c74cf2,438px 177px #ca46ee,440px 177px #cc41eb,442px 177px #cf3ce8,444px 177px #d237e5,446px 177px #d432e2,448px 177px #d72cdf,450px 177px #d927dc,452px 177px #dc22d8,454px 177px #dd1dd4,456px 177px #de18ce,458px 177px #df13c9,460px 177px #e00ec3,462px 177px #e10abe,464px 177px #e305b9,466px 177px #e400b4,468px 177px #e300ae,470px 177px #df00a6,472px 177px #da009d,474px 177px #d40094,476px 177px #cd008b,478px 177px #c50081,480px 177px #bc0077,482px 177px #b3006d,484px 177px #a90062,486px 177px #9d0057,488px 177px #91004c,490px 177px #850042,492px 177px #860041,494px 177px #86003f,372px 179px #0070b4,374px 179px #0071b6,376px 179px #0074ba,378px 179px #0077bf,380px 179px #007ac4,382px 179px #007dc8,384px 179px #0080cc,386px 179px #0083d1,388px 179px #0085d5,390px 179px #0088d9,392px 179px #008add,394px 179px #008ce1,396px 179px #008ee4,398px 179px #008fe8,400px 179px #008beb,402px 179px #007eee,404px 179px #0071f0,406px 179px #0061f3,408px 179px #48a7ff,410px 179px #5aa6ff,412px 179px #6ea1ff,414px 179px #8799ff,416px 179px #a096ff,418px 179px #a97dff,420px 179px #ac74ff,422px 179px #ae6cfe,424px 179px #b266fc,426px 179px #b560fb,428px 179px #b859f9,430px 179px #bb53f7,432px 179px #bf4df6,434px 179px #c246f4,436px 179px #c441f1,438px 179px #c73cee,440px 179px #c937eb,442px 179px #cc32e8,444px 179px #ce2ce4,446px 179px #d127e1,448px 179px #d322de,450px 179px #d61ddb,452px 179px #d818d8,454px 179px #da13d4,456px 179px #dc0ecf,458px 179px #dd09ca,460px 179px #de04c4,462px 179px #dd00bd,464px 179px #d900b5,466px 179px #d500ac,468px 179px #d000a3,470px 179px #c90099,472px 179px #c2008f,474px 179px #bb0085,476px 179px #b2007b,478px 179px #a90070,480px 179px #9f0065,482px 179px #94005a,484px 179px #88004e,486px 179px #810047,488px 179px #820045,490px 179px #830044,374px 181px #006fb7,376px 181px #0072bb,378px 181px #0075c0,380px 181px #0078c4,382px 181px #007bc9,384px 181px #007dcd,386px 181px #0080d1,388px 181px #0082d5,390px 181px #0084d9,392px 181px #0086dd,394px 181px #0088e1,396px 181px #0089e4,398px 181px #008ae8,400px 181px #0081eb,402px 181px #0075ee,404px 181px #0066f1,406px 181px #0055f3,408px 181px #4ca2ff,410px 181px #609dff,412px 181px #7896ff,414px 181px #8f92ff,416px 181px #a47aff,418px 181px #a671ff,420px 181px #a868ff,422px 181px #ab62fd,424px 181px #ae5bfc,426px 181px #b255fa,428px 181px #b54ff8,430px 181px #b848f7,432px 181px #bb42f5,434px 181px #be3cf3,436px 181px #c137f0,438px 181px #c332ed,440px 181px #c62cea,442px 181px #c827e7,444px 181px #cb22e4,446px 181px #cd1de1,448px 181px #d018de,450px 181px #d213da,452px 181px #d50ed7,454px 181px #d709d4,456px 181px #d804cf,458px 181px #d500c6,460px 181px #d100bc,462px 181px #cc00b2,464px 181px #c600a8,466px 181px #c0009e,468px 181px #b90094,470px 181px #b10089,472px 181px #a8007e,474px 181px #9f0073,476px 181px #950068,478px 181px #8b005c,480px 181px #800051,482px 181px #7d004c,484px 181px #7f004b,374px 183px #006eb9,376px 183px #0070bc,378px 183px #0073c0,380px 183px #0075c5,382px 183px #0078c9,384px 183px #007ace,386px 183px #007dd2,388px 183px #007fd6,390px 183px #0081da,392px 183px #0082de,394px 183px #0084e1,396px 183px #0084e5,398px 183px #0085e8,400px 183px #0079eb,402px 183px #006bee,404px 183px #005bf1,406px 183px #0048f3,408px 183px #5399ff,410px 183px #6893ff,412px 183px #818dff,414px 183px #9e77ff,416px 183px #a06eff,418px 183px #a265ff,420px 183px #a55efe,422px 183px #a857fd,424px 183px #ab51fb,426px 183px #af4bf9,428px 183px #b244f8,430px 183px #b53ef6,432px 183px #b838f4,434px 183px #bb32f3,436px 183px #be2def,438px 183px #c027ec,440px 183px #c222e9,442px 183px #c51de6,444px 183px #c718e3,446px 183px #ca13e0,448px 183px #cc0edd,450px 183px #cf09da,452px 183px #cf04d4,454px 183px #cc00cc,456px 183px #c800c3,458px 183px #c300b9,460px 183px #bd00ae,462px 183px #b600a3,464px 183px #af0098,466px 183px #a7008d,468px 183px #9f0081,470px 183px #960076,472px 183px #8d006a,474px 183px #82005f,476px 183px #780054,478px 183px #7a0052,480px 183px #7b0050,374px 185px #006dba,376px 185px #006ebc,378px 185px #0070c1,380px 185px #0073c5,382px 185px #0075ca,384px 185px #0078ce,386px 185px #007ad2,388px 185px #007cd6,390px 185px #007dda,392px 185px #007ede,394px 185px #007fe2,396px 185px #0080e5,398px 185px #0080e9,400px 185px #006fec,402px 185px #0061ef,404px 185px #0050f1,406px 185px #4595ff,408px 185px #5991ff,410px 185px #7288ff,412px 185px #8a86ff,414px 185px #9a6bff,416px 185px #9d62ff,418px 185px #9f5aff,420px 185px #a253fe,422px 185px #a54dfc,424px 185px #a846fa,426px 185px #ab40f9,428px 185px #af3af7,430px 185px #b234f5,432px 185px #b52df4,434px 185px #b827f2,436px 185px #ba22ef,438px 185px #bd1dec,440px 185px #bf18e9,442px 185px #c213e6,444px 185px #c40ee3,446px 185px #c709df,448px 185px #c504d8,450px 185px #c200d0,452px 185px #be00c7,454px 185px #ba00bd,456px 185px #b400b3,458px 185px #ae00a8,460px 185px #a7009c,462px 185px #9f0091,464px 185px #960085,466px 185px #8d0079,468px 185px #84006d,470px 185px #7a0061,472px 185px #740059,474px 185px #760057,476px 185px #770056,376px 187px #006cbd,378px 187px #006ec2,380px 187px #0071c6,382px 187px #0073cb,384px 187px #0075cf,386px 187px #0077d3,388px 187px #0078d7,390px 187px #007adb,392px 187px #007bdf,394px 187px #007be2,396px 187px #007ce6,398px 187px #0075e9,400px 187px #0066ec,402px 187px #0057ef,404px 187px #0044f1,406px 187px #4c8dff,408px 187px #6385ff,410px 187px #7a81ff,412px 187px #9568ff,414px 187px #975fff,416px 187px #9957ff,418px 187px #9b4fff,420px 187px #9f48fd,422px 187px #a242fb,424px 187px #a53cfa,426px 187px #a836f8,428px 187px #ab2ff6,430px 187px #af29f5,432px 187px #b223f3,434px 187px #b51df1,436px 187px #b718ee,438px 187px #b913eb,440px 187px #bc0ee8,442px 187px #be09e5,444px 187px #bc04dd,446px 187px #b800d4,448px 187px #b500ca,450px 187px #b000c0,452px 187px #ab00b6,454px 187px #a500ab,456px 187px #9e00a0,458px 187px #970094,460px 187px #8e0088,462px 187px #85007c,464px 187px #7c0070,466px 187px #720063,468px 187px #70005f,470px 187px #72005d,376px 189px #006bbf,378px 189px #006cc2,380px 189px #006ec7,382px 189px #0070cb,384px 189px #0072cf,386px 189px #0074d4,388px 189px #0075d8,390px 189px #0076db,392px 189px #0077df,394px 189px #0077e3,396px 189px #0077e6,398px 189px #006bea,400px 189px #005ded,402px 189px #004df0,404px 189px #3e89ff,406px 189px #5483ff,408px 189px #6c7cff,410px 189px #857aff,412px 189px #915cff,414px 189px #9354ff,416px 189px #964bff,418px 189px #9844fe,420px 189px #9c3efc,422px 189px #9f38fb,424px 189px #a232f9,426px 189px #a52bf7,428px 189px #a825f6,430px 189px #ab1ff4,432px 189px #af19f2,434px 189px #b113f0,436px 189px #b40eed,438px 189px #b609ea,440px 189px #b404e2,442px 189px #b000d8,444px 189px #ac00ce,446px 189px #a700c4,448px 189px #a200b9,450px 189px #9c00ae,452px 189px #9500a2,454px 189px #8e0097,456px 189px #86008b,458px 189px #7d007e,460px 189px #740072,462px 189px #6b0066,464px 189px #6d0064,466px 189px #6e0062,376px 191px #006ac1,378px 191px #006ac3,380px 191px #006cc8,382px 191px #006ecc,384px 191px #006fd0,386px 191px #0071d4,388px 191px #0072d8,390px 191px #0073dc,392px 191px #0073e0,394px 191px #0073e4,396px 191px #0072e7,398px 191px #0063eb,400px 191px #0054ee,402px 191px #0041f0,404px 191px #4580ff,406px 191px #5d78ff,408px 191px #7576ff,410px 191px #8c59ff,412px 191px #8e51ff,414px 191px #9048ff,416px 191px #9240ff,418px 191px #953afd,420px 191px #9934fb,422px 191px #9c2dfa,424px 191px #9f27f8,426px 191px #a221f7,428px 191px #a51bf5,430px 191px #a815f3,432px 191px #ab0ff2,434px 191px #ae09f0,436px 191px #ac04e8,438px 191px #a800dd,440px 191px #a400d3,442px 191px #9f00c8,444px 191px #9900bc,446px 191px #9300b1,448px 191px #8c00a5,450px 191px #850099,452px 191px #7d008d,454px 191px #750080,456px 191px #6c0074,458px 191px #67006b,460px 191px #690069,462px 191px #6a0067,378px 193px #0068c4,380px 193px #006ac8,382px 193px #006ccd,384px 193px #006dd1,386px 193px #006ed5,388px 193px #006fd9,390px 193px #006fdd,392px 193px #006fe1,394px 193px #006ee5,396px 193px #006ae8,398px 193px #005beb,400px 193px #0049ee,402px 193px #073df0,404px 193px #4f75ff,406px 193px #6671ff,408px 193px #8657ff,410px 193px #884eff,412px 193px #8a45ff,414px 193px #8c3dff,416px 193px #8f36fe,418px 193px #9230fc,420px 193px #9629fb,422px 193px #9923f9,424px 193px #9c1df8,426px 193px #9f17f6,428px 193px #a211f4,430px 193px #a50bf3,432px 193px #a404ed,434px 193px #a000e3,436px 193px #9c00d8,438px 193px #9700cc,440px 193px #9100c0,442px 193px #8b00b4,444px 193px #8400a8,446px 193px #7d009b,448px 193px #76008f,450px 193px #6d0082,452px 193px #650076,454px 193px #640071,456px 193px #65006f,378px 195px #0068c6,380px 195px #0068c9,382px 195px #0069cd,384px 195px #006ad2,386px 195px #006bd6,388px 195px #006cda,390px 195px #006cde,392px 195px #006be2,394px 195px #006ae6,396px 195px #0061e9,398px 195px #0051ec,400px 195px #0241ee,402px 195px #4073ff,404px 195px #586cff,406px 195px #706aff,408px 195px #834bff,410px 195px #8543ff,412px 195px #873aff,414px 195px #8932ff,416px 195px #8c2bfd,418px 195px #8f25fc,420px 195px #931ffa,422px 195px #9619f8,424px 195px #9913f7,426px 195px #9c0df5,428px 195px #9c06f0,430px 195px #9803e7,432px 195px #9501dc,434px 195px #9000d0,436px 195px #8a00c4,438px 195px #8400b7,440px 195px #7d00ab,442px 195px #76009e,444px 195px #6e0091,446px 195px #660084,448px 195px #5e0078,450px 195px #600076,452px 195px #610074,378px 197px #0067c8,380px 197px #0066ca,382px 197px #0067ce,384px 197px #0068d2,386px 197px #0069d6,388px 197px #0069da,390px 197px #0068df,392px 197px #0067e3,394px 197px #0066e7,396px 197px #0058ea,398px 197px #0047ec,400px 197px #093eef,402px 197px #4968ff,404px 197px #6066ff,406px 197px #7845fc,408px 197px #7f40ff,410px 197px #8137ff,412px 197px #832fff,414px 197px #8627fe,416px 197px #8921fd,418px 197px #8c1bfb,420px 197px #8f15f9,422px 197px #930ff8,424px 197px #9308f3,426px 197px #9106ea,428px 197px #8d04df,430px 197px #8802d4,432px 197px #8301c8,434px 197px #7d00bb,436px 197px #7600ae,438px 197px #6e00a1,440px 197px #670093,442px 197px #5e0086,444px 197px #5a007e,446px 197px #5c007b,448px 197px #5e0079,380px 199px #0065cb,382px 199px #0065cf,384px 199px #0066d3,386px 199px #0066d7,388px 199px #0066dc,390px 199px #0065e0,392px 199px #0063e4,394px 199px #0061e8,396px 199px #004fea,398px 199px #0442ed,400px 199px #0f39f0,402px 199px #5261ff,404px 199px #6b5eff,406px 199px #7a3dff,408px 199px #7c34ff,410px 199px #7e2cff,412px 199px #8024ff,414px 199px #831dfe,416px 199px #8617fc,418px 199px #8911fa,420px 199px #8b0bf7,422px 199px #8909ee,424px 199px #8506e3,426px 199px #8004d7,428px 199px #7b02cb,430px 199px #7501be,432px 199px #6e00b1,434px 199px #6700a3,436px 199px #5f0096,438px 199px #570088,440px 199px #570083,442px 199px #580080,380px 201px #0064cd,382px 201px #0064d0,384px 201px #0064d4,386px 201px #0063d9,388px 201px #0063dd,390px 201px #0061e1,392px 201px #005fe5,394px 201px #0056e8,396px 201px #0046eb,398px 201px #0a3dee,400px 201px #435cff,402px 201px #5b5aff,404px 201px #6833f7,406px 201px #7631ff,408px 201px #7829ff,410px 201px #7b21ff,412px 201px #7d19ff,414px 201px #8013fd,416px 201px #830ffa,418px 201px #810cf1,420px 201px #7e09e6,422px 201px #7906da,424px 201px #7304ce,426px 201px #6d03c1,428px 201px #6701b3,430px 201px #5f01a6,432px 201px #580098,434px 201px #51008b,436px 201px #530088,438px 201px #550085,382px 203px #0062d1,384px 203px #0062d6,386px 203px #0061da,388px 203px #0060df,390px 203px #005ee3,392px 203px #005ae6,394px 203px #004de9,396px 203px #0642ec,398px 203px #0f39ef,400px 203px #4c56ff,402px 203px #582bf0,404px 203px #682af8,406px 203px #7326ff,408px 203px #751eff,410px 203px #7716ff,412px 203px #7b12fd,414px 203px #790ff4,416px 203px #760be9,418px 203px #7108dd,420px 203px #6c06d1,422px 203px #6604c4,424px 203px #5f02b6,426px 203px #5801a8,428px 203px #50009a,430px 203px #4d0090,432px 203px #4f008d,434px 203px #51008b,382px 205px #0061d4,384px 205px #0060d7,386px 205px #005fdc,388px 205px #005de0,390px 205px #0059e4,392px 205px #0054e7,394px 205px #0246ea,396px 205px #0b3ded,398px 205px #4355ff,400px 205px #564fff,402px 205px #5622ef,404px 205px #6921fb,406px 205px #701cff,408px 205px #7417fe,410px 205px #7212f7,412px 205px #6e0eec,414px 205px #6a0ae0,416px 205px #6407d4,418px 205px #5e05c6,420px 205px #5703b9,422px 205px #5001aa,424px 205px #48009c,426px 205px #480096,428px 205px #4b0093,382px 207px #0060d6,384px 207px #005ed9,386px 207px #005ddd,388px 207px #005ae1,390px 207px #0054e5,392px 207px #004de8,394px 207px #0842eb,396px 207px #1039ef,398px 207px #4b50ff,400px 207px #481de8,402px 207px #551bee,404px 207px #6d1efe,406px 207px #6b18f8,408px 207px #6711ef,410px 207px #620ce3,412px 207px #5c09d6,414px 207px #5606c9,416px 207px #4f03bb,418px 207px #4801ad,420px 207px #41009f,422px 207px #44009c,424px 207px #460099,384px 209px #005ddc,386px 209px #005bdf,388px 209px #0055e2,390px 209px #004fe6,392px 209px #0346e9,394px 209px #083eed,396px 209px #1332ef,398px 209px #5649ff,400px 209px #4719e5,402px 209px #5619ec,404px 209px #6017f0,406px 209px #5b10e5,408px 209px #550ad9,410px 209px #4f06cb,412px 209px #4803bd,414px 209px #4001af,416px 209px #3d00a5,418px 209px #4000a2,420px 209px #42009f,386px 211px #0057e0,388px 211px #0052e3,390px 211px #004be7,392px 211px #0342eb,394px 211px #0b38ee,396px 211px #4f4dff,398px 211px #3d17df,400px 211px #4515df,402px 211px #5415e7,404px 211px #4e0edb,406px 211px #4708ce,408px 211px #4003c0,410px 211px #3801b1,412px 211px #3900ab,414px 211px #3b00a7,386px 213px #0054e2,388px 213px #004fe4,390px 213px #0047e8,392px 213px #043dec,394px 213px #0e31ee,396px 213px #5947ff,398px 213px #3913d8,400px 213px #3f10d7,402px 213px #400cd1,404px 213px #3806c2,406px 213px #3200b4,408px 213px #3500b1,410px 213px #3700ad,388px 215px #004ae7,390px 215px #0042ea,392px 215px #0837ed,394px 215px #1329ef,396px 215px #3011d3,398px 215px #310ecd,400px 215px #3009c6,402px 215px #2e04bb,404px 215px #3002b7,406px 215px #3300b3,390px 217px #033cec,392px 217px #0c30ee,394px 217px #2810d0,396px 217px #270cc8,398px 217px #2909c3,400px 217px #2c06be,392px 219px #1127ef,394px 219px #250dca,396px 219px #280ac5;}
</style></head><body>
<svg width="0" height="0" style="position:absolute"><defs><filter id="tex" color-interpolation-filters="sRGB" x="0" y="0" width="1" height="1" primitiveUnits="userSpaceOnUse"><feTurbulence type="fractalNoise" baseFrequency="0.9 0.45" numOctaves="2" seed="7"/><feColorMatrix type="matrix" values="1 0 0 0 0  1 0 0 0 0  1 0 0 0 0  0 0 0 0 1"/></filter></defs></svg>
<svg width="550" height="374" viewBox="0 0 550 374"><path d="M403.9 223.6V15.88M450.1 223.6V15.88M496.3 223.6V15.88M357.7 200.52H542.5M357.7 177.44H542.5M357.7 154.36H542.5M357.7 131.28H542.5M357.7 108.2H542.5M357.7 85.12H542.5M357.7 62.04H542.5M357.7 38.96H542.5" stroke="#bdbdbd" stroke-width="0.9" stroke-dasharray="3.2 3.4" fill="none"/></svg>
<div id="fillwrap"><div id="fill"></div></div>
<svg width="550" height="374" viewBox="0 0 550 374">
<path d="M36.1 119.85L38.22 119.25M42.64 118.1L46.82 116.72M51.34 115.01L55.39 113.29M60 110.99L64 109.15M68.61 107.06L72.66 105.34M77.25 103.62L81.28 101.86M85.88 99.55L89.92 97.79M94.48 96L98.58 94.4M103.09 92.66L107.25 91.23M111.7 89.94L115.9 88.65M120.34 87.31L124.53 85.98M128.96 84.42L133.18 83.17M137.58 82.13L141.82 80.98M146.22 79.71L150.45 78.51M154.85 77.26L159.08 76.07M163.48 74.8L167.72 73.65M172.1 72.51L176.37 71.45M180.71 70.38L185.02 69.51M189.34 68.95L193.66 68.08M197.99 66.99L202.27 65.98M206.61 64.9L210.92 63.99M215.25 63.27L219.55 62.36M223.88 61.21L228.19 60.34M232.49 59.68L236.84 59.02M241.12 58.44L245.48 57.82M249.76 57.24L254.11 56.57M258.39 55.81L262.74 55.15M267.02 54.57L271.38 53.95M275.66 53.37L280.01 52.7M284.3 51.97L288.64 51.25M292.93 50.54L295.1 50.18" stroke="#bababa" stroke-width="1.9" fill="none"/>
<polyline points="36,207.44 44.63,207.44 53.27,207.44 61.9,207.24 70.53,206.02 79.17,203.77 87.8,200.31 96.43,194.4 105.07,186.87 113.7,178.52 122.33,175.26 130.97,175.66 139.6,179.13 148.23,184.22 156.87,189.72 165.5,195.42 174.13,200.72 182.77,205.2 191.4,208.66 200.03,211.51 208.67,213.96 217.3,215.39 225.93,215.59 234.57,215.79 243.2,216.4 251.83,217.22 260.47,218.24 269.1,218.64 277.73,218.64 286.37,217.63 295,214.16" fill="none" stroke="#4DAA1E" stroke-width="1.5" stroke-linejoin="round" />
<polygon points="36,204.44 36.74,206.42 38.85,206.51 37.2,207.83 37.76,209.87 36,208.7 34.24,209.87 34.8,207.83 33.15,206.51 35.26,206.42" fill="#4DAA1E" stroke="#4DAA1E" stroke-width="0.5"/>
<polygon points="44.63,204.44 45.37,206.42 47.49,206.51 45.83,207.83 46.4,209.87 44.63,208.7 42.87,209.87 43.44,207.83 41.78,206.51 43.89,206.42" fill="#4DAA1E" stroke="#4DAA1E" stroke-width="0.5"/>
<polygon points="53.27,204.44 54.01,206.42 56.12,206.51 54.46,207.83 55.03,209.87 53.27,208.7 51.5,209.87 52.07,207.83 50.41,206.51 52.53,206.42" fill="#4DAA1E" stroke="#4DAA1E" stroke-width="0.5"/>
<polygon points="61.9,204.24 62.64,206.22 64.75,206.31 63.1,207.63 63.66,209.66 61.9,208.5 60.14,209.66 60.7,207.63 59.05,206.31 61.16,206.22" fill="#4DAA1E" stroke="#4DAA1E" stroke-width="0.5"/>
<polygon points="70.53,203.02 71.27,205 73.39,205.09 71.73,206.4 72.3,208.44 70.53,207.28 68.77,208.44 69.34,206.4 67.68,205.09 69.79,205" fill="#4DAA1E" stroke="#4DAA1E" stroke-width="0.5"/>
<polygon points="79.17,200.77 79.91,202.76 82.02,202.85 80.36,204.16 80.93,206.2 79.17,205.03 77.4,206.2 77.97,204.16 76.31,202.85 78.43,202.76" fill="#4DAA1E" stroke="#4DAA1E" stroke-width="0.5"/>
<polygon points="87.8,197.31 88.54,199.29 90.65,199.38 89,200.7 89.56,202.74 87.8,201.57 86.04,202.74 86.6,200.7 84.95,199.38 87.06,199.29" fill="#4DAA1E" stroke="#4DAA1E" stroke-width="0.5"/>
<polygon points="96.43,191.4 97.17,193.38 99.29,193.48 97.63,194.79 98.2,196.83 96.43,195.66 94.67,196.83 95.24,194.79 93.58,193.48 95.69,193.38" fill="#4DAA1E" stroke="#4DAA1E" stroke-width="0.5"/>
<polygon points="105.07,183.87 105.81,185.85 107.92,185.94 106.26,187.26 106.83,189.29 105.07,188.13 103.3,189.29 103.87,187.26 102.21,185.94 104.33,185.85" fill="#4DAA1E" stroke="#4DAA1E" stroke-width="0.5"/>
<polygon points="113.7,175.52 114.44,177.5 116.55,177.59 114.9,178.9 115.46,180.94 113.7,179.78 111.94,180.94 112.5,178.9 110.85,177.59 112.96,177.5" fill="#4DAA1E" stroke="#4DAA1E" stroke-width="0.5"/>
<polygon points="122.33,172.26 123.07,174.24 125.19,174.33 123.53,175.65 124.1,177.68 122.33,176.52 120.57,177.68 121.14,175.65 119.48,174.33 121.59,174.24" fill="#4DAA1E" stroke="#4DAA1E" stroke-width="0.5"/>
<polygon points="130.97,172.66 131.71,174.64 133.82,174.74 132.16,176.05 132.73,178.09 130.97,176.92 129.2,178.09 129.77,176.05 128.11,174.74 130.23,174.64" fill="#4DAA1E" stroke="#4DAA1E" stroke-width="0.5"/>
<polygon points="139.6,176.13 140.34,178.11 142.45,178.2 140.8,179.52 141.36,181.55 139.6,180.39 137.84,181.55 138.4,179.52 136.75,178.2 138.86,178.11" fill="#4DAA1E" stroke="#4DAA1E" stroke-width="0.5"/>
<polygon points="148.23,181.22 148.97,183.2 151.09,183.29 149.43,184.61 150,186.65 148.23,185.48 146.47,186.65 147.04,184.61 145.38,183.29 147.49,183.2" fill="#4DAA1E" stroke="#4DAA1E" stroke-width="0.5"/>
<polygon points="156.87,186.72 157.61,188.7 159.72,188.79 158.06,190.11 158.63,192.15 156.87,190.98 155.1,192.15 155.67,190.11 154.01,188.79 156.13,188.7" fill="#4DAA1E" stroke="#4DAA1E" stroke-width="0.5"/>
<polygon points="165.5,192.42 166.24,194.4 168.35,194.5 166.7,195.81 167.26,197.85 165.5,196.68 163.74,197.85 164.3,195.81 162.65,194.5 164.76,194.4" fill="#4DAA1E" stroke="#4DAA1E" stroke-width="0.5"/>
<polygon points="174.13,197.72 174.87,199.7 176.99,199.79 175.33,201.11 175.9,203.15 174.13,201.98 172.37,203.15 172.94,201.11 171.28,199.79 173.39,199.7" fill="#4DAA1E" stroke="#4DAA1E" stroke-width="0.5"/>
<polygon points="182.77,202.2 183.51,204.18 185.62,204.27 183.96,205.59 184.53,207.63 182.77,206.46 181,207.63 181.57,205.59 179.91,204.27 182.03,204.18" fill="#4DAA1E" stroke="#4DAA1E" stroke-width="0.5"/>
<polygon points="191.4,205.66 192.14,207.64 194.25,207.74 192.6,209.05 193.16,211.09 191.4,209.92 189.64,211.09 190.2,209.05 188.55,207.74 190.66,207.64" fill="#4DAA1E" stroke="#4DAA1E" stroke-width="0.5"/>
<polygon points="200.03,208.51 200.77,210.5 202.89,210.59 201.23,211.9 201.8,213.94 200.03,212.77 198.27,213.94 198.84,211.9 197.18,210.59 199.29,210.5" fill="#4DAA1E" stroke="#4DAA1E" stroke-width="0.5"/>
<polygon points="208.67,210.96 209.41,212.94 211.52,213.03 209.86,214.35 210.43,216.39 208.67,215.22 206.9,216.39 207.47,214.35 205.81,213.03 207.93,212.94" fill="#4DAA1E" stroke="#4DAA1E" stroke-width="0.5"/>
<polygon points="217.3,212.39 218.04,214.37 220.15,214.46 218.5,215.77 219.06,217.81 217.3,216.65 215.54,217.81 216.1,215.77 214.45,214.46 216.56,214.37" fill="#4DAA1E" stroke="#4DAA1E" stroke-width="0.5"/>
<polygon points="225.93,212.59 226.67,214.57 228.79,214.66 227.13,215.98 227.7,218.02 225.93,216.85 224.17,218.02 224.74,215.98 223.08,214.66 225.19,214.57" fill="#4DAA1E" stroke="#4DAA1E" stroke-width="0.5"/>
<polygon points="234.57,212.79 235.31,214.77 237.42,214.87 235.76,216.18 236.33,218.22 234.57,217.05 232.8,218.22 233.37,216.18 231.71,214.87 233.83,214.77" fill="#4DAA1E" stroke="#4DAA1E" stroke-width="0.5"/>
<polygon points="243.2,213.4 243.94,215.38 246.05,215.48 244.4,216.79 244.96,218.83 243.2,217.66 241.44,218.83 242,216.79 240.35,215.48 242.46,215.38" fill="#4DAA1E" stroke="#4DAA1E" stroke-width="0.5"/>
<polygon points="251.83,214.22 252.57,216.2 254.69,216.29 253.03,217.61 253.6,219.65 251.83,218.48 250.07,219.65 250.64,217.61 248.98,216.29 251.09,216.2" fill="#4DAA1E" stroke="#4DAA1E" stroke-width="0.5"/>
<polygon points="260.47,215.24 261.21,217.22 263.32,217.31 261.66,218.63 262.23,220.66 260.47,219.5 258.7,220.66 259.27,218.63 257.61,217.31 259.73,217.22" fill="#4DAA1E" stroke="#4DAA1E" stroke-width="0.5"/>
<polygon points="269.1,215.64 269.84,217.63 271.95,217.72 270.3,219.03 270.86,221.07 269.1,219.9 267.34,221.07 267.9,219.03 266.25,217.72 268.36,217.63" fill="#4DAA1E" stroke="#4DAA1E" stroke-width="0.5"/>
<polygon points="277.73,215.64 278.47,217.63 280.59,217.72 278.93,219.03 279.5,221.07 277.73,219.9 275.97,221.07 276.54,219.03 274.88,217.72 276.99,217.63" fill="#4DAA1E" stroke="#4DAA1E" stroke-width="0.5"/>
<polygon points="286.37,214.63 287.11,216.61 289.22,216.7 287.56,218.02 288.13,220.05 286.37,218.89 284.6,220.05 285.17,218.02 283.51,216.7 285.63,216.61" fill="#4DAA1E" stroke="#4DAA1E" stroke-width="0.5"/>
<polygon points="295,211.16 295.74,213.14 297.85,213.24 296.2,214.55 296.76,216.59 295,215.42 293.24,216.59 293.8,214.55 292.15,213.24 294.26,213.14" fill="#4DAA1E" stroke="#4DAA1E" stroke-width="0.5"/>
<polyline points="36,216.2 44.63,216.4 53.27,216.4 61.9,216.4 70.53,216.4 79.17,216.4 87.8,216.61 96.43,217.42 105.07,217.83 113.7,218.44 122.33,218.44 130.97,218.44 139.6,218.64 148.23,218.64 156.87,218.64 165.5,218.64 174.13,218.64 182.77,218.64 191.4,214.57 200.03,204.39 208.67,186.66 217.3,162.83 225.93,139.41 234.57,119.65 243.2,105.59 251.83,95 260.47,86.04 269.1,78.5 277.73,70.96 286.37,64.04 295,57.72" fill="none" stroke="#FA4B1A" stroke-width="1.3" stroke-linejoin="round" />
<polygon points="36,213.4 38.18,216.2 36,219 33.82,216.2" fill="#fff" stroke="#FA4B1A" stroke-width="1.0"/>
<polygon points="44.63,213.6 46.82,216.4 44.63,219.2 42.45,216.4" fill="#fff" stroke="#FA4B1A" stroke-width="1.0"/>
<polygon points="53.27,213.6 55.45,216.4 53.27,219.2 51.08,216.4" fill="#fff" stroke="#FA4B1A" stroke-width="1.0"/>
<polygon points="61.9,213.6 64.08,216.4 61.9,219.2 59.72,216.4" fill="#fff" stroke="#FA4B1A" stroke-width="1.0"/>
<polygon points="70.53,213.6 72.72,216.4 70.53,219.2 68.35,216.4" fill="#fff" stroke="#FA4B1A" stroke-width="1.0"/>
<polygon points="79.17,213.6 81.35,216.4 79.17,219.2 76.98,216.4" fill="#fff" stroke="#FA4B1A" stroke-width="1.0"/>
<polygon points="87.8,213.81 89.98,216.61 87.8,219.41 85.62,216.61" fill="#fff" stroke="#FA4B1A" stroke-width="1.0"/>
<polygon points="96.43,214.62 98.62,217.42 96.43,220.22 94.25,217.42" fill="#fff" stroke="#FA4B1A" stroke-width="1.0"/>
<polygon points="105.07,215.03 107.25,217.83 105.07,220.63 102.88,217.83" fill="#fff" stroke="#FA4B1A" stroke-width="1.0"/>
<polygon points="113.7,215.64 115.88,218.44 113.7,221.24 111.52,218.44" fill="#fff" stroke="#FA4B1A" stroke-width="1.0"/>
<polygon points="122.33,215.64 124.52,218.44 122.33,221.24 120.15,218.44" fill="#fff" stroke="#FA4B1A" stroke-width="1.0"/>
<polygon points="130.97,215.64 133.15,218.44 130.97,221.24 128.78,218.44" fill="#fff" stroke="#FA4B1A" stroke-width="1.0"/>
<polygon points="139.6,215.84 141.78,218.64 139.6,221.44 137.42,218.64" fill="#fff" stroke="#FA4B1A" stroke-width="1.0"/>
<polygon points="148.23,215.84 150.42,218.64 148.23,221.44 146.05,218.64" fill="#fff" stroke="#FA4B1A" stroke-width="1.0"/>
<polygon points="156.87,215.84 159.05,218.64 156.87,221.44 154.68,218.64" fill="#fff" stroke="#FA4B1A" stroke-width="1.0"/>
<polygon points="165.5,215.84 167.68,218.64 165.5,221.44 163.32,218.64" fill="#fff" stroke="#FA4B1A" stroke-width="1.0"/>
<polygon points="174.13,215.84 176.32,218.64 174.13,221.44 171.95,218.64" fill="#fff" stroke="#FA4B1A" stroke-width="1.0"/>
<polygon points="182.77,215.84 184.95,218.64 182.77,221.44 180.58,218.64" fill="#fff" stroke="#FA4B1A" stroke-width="1.0"/>
<polygon points="191.4,211.77 193.58,214.57 191.4,217.37 189.22,214.57" fill="#fff" stroke="#FA4B1A" stroke-width="1.0"/>
<polygon points="200.03,201.59 202.22,204.39 200.03,207.19 197.85,204.39" fill="#fff" stroke="#FA4B1A" stroke-width="1.0"/>
<polygon points="208.67,183.86 210.85,186.66 208.67,189.46 206.48,186.66" fill="#fff" stroke="#FA4B1A" stroke-width="1.0"/>
<polygon points="217.3,160.03 219.48,162.83 217.3,165.63 215.12,162.83" fill="#fff" stroke="#FA4B1A" stroke-width="1.0"/>
<polygon points="225.93,136.61 228.12,139.41 225.93,142.21 223.75,139.41" fill="#fff" stroke="#FA4B1A" stroke-width="1.0"/>
<polygon points="234.57,116.85 236.75,119.65 234.57,122.45 232.38,119.65" fill="#fff" stroke="#FA4B1A" stroke-width="1.0"/>
<polygon points="243.2,102.79 245.38,105.59 243.2,108.39 241.02,105.59" fill="#fff" stroke="#FA4B1A" stroke-width="1.0"/>
<polygon points="251.83,92.2 254.02,95 251.83,97.8 249.65,95" fill="#fff" stroke="#FA4B1A" stroke-width="1.0"/>
<polygon points="260.47,83.24 262.65,86.04 260.47,88.84 258.28,86.04" fill="#fff" stroke="#FA4B1A" stroke-width="1.0"/>
<polygon points="269.1,75.7 271.28,78.5 269.1,81.3 266.92,78.5" fill="#fff" stroke="#FA4B1A" stroke-width="1.0"/>
<polygon points="277.73,68.16 279.92,70.96 277.73,73.76 275.55,70.96" fill="#fff" stroke="#FA4B1A" stroke-width="1.0"/>
<polygon points="286.37,61.24 288.55,64.04 286.37,66.84 284.18,64.04" fill="#fff" stroke="#FA4B1A" stroke-width="1.0"/>
<polygon points="295,54.92 297.18,57.72 295,60.52 292.82,57.72" fill="#fff" stroke="#FA4B1A" stroke-width="1.0"/>
<polyline points="36,216.2 44.63,216.2 53.27,216.2 61.9,216.2 70.53,216.2 79.17,216.2 87.8,216 96.43,215.79 105.07,214.77 113.7,213.35 122.33,211.31 130.97,207.85 139.6,203.77 148.23,197.87 156.87,189.72 165.5,182.18 174.13,176.07 182.77,170.98 191.4,166.09 200.03,162.83 208.67,161 217.3,161 225.93,161.2 234.57,161.2 243.2,158.76 251.83,153.66 260.47,146.33 269.1,136.35 277.73,125.15 286.37,113.54 295,103.15" fill="none" stroke="#FBB020" stroke-width="1.4" stroke-linejoin="round" />
<rect x="34.3" y="214.5" width="3.4" height="3.4" fill="#fff" stroke="#FBB020" stroke-width="1.0"/>
<rect x="42.93" y="214.5" width="3.4" height="3.4" fill="#fff" stroke="#FBB020" stroke-width="1.0"/>
<rect x="51.57" y="214.5" width="3.4" height="3.4" fill="#fff" stroke="#FBB020" stroke-width="1.0"/>
<rect x="60.2" y="214.5" width="3.4" height="3.4" fill="#fff" stroke="#FBB020" stroke-width="1.0"/>
<rect x="68.83" y="214.5" width="3.4" height="3.4" fill="#fff" stroke="#FBB020" stroke-width="1.0"/>
<rect x="77.47" y="214.5" width="3.4" height="3.4" fill="#fff" stroke="#FBB020" stroke-width="1.0"/>
<rect x="86.1" y="214.3" width="3.4" height="3.4" fill="#fff" stroke="#FBB020" stroke-width="1.0"/>
<rect x="94.73" y="214.09" width="3.4" height="3.4" fill="#fff" stroke="#FBB020" stroke-width="1.0"/>
<rect x="103.37" y="213.07" width="3.4" height="3.4" fill="#fff" stroke="#FBB020" stroke-width="1.0"/>
<rect x="112" y="211.65" width="3.4" height="3.4" fill="#fff" stroke="#FBB020" stroke-width="1.0"/>
<rect x="120.63" y="209.61" width="3.4" height="3.4" fill="#fff" stroke="#FBB020" stroke-width="1.0"/>
<rect x="129.27" y="206.15" width="3.4" height="3.4" fill="#fff" stroke="#FBB020" stroke-width="1.0"/>
<rect x="137.9" y="202.07" width="3.4" height="3.4" fill="#fff" stroke="#FBB020" stroke-width="1.0"/>
<rect x="146.53" y="196.17" width="3.4" height="3.4" fill="#fff" stroke="#FBB020" stroke-width="1.0"/>
<rect x="155.17" y="188.02" width="3.4" height="3.4" fill="#fff" stroke="#FBB020" stroke-width="1.0"/>
<rect x="163.8" y="180.48" width="3.4" height="3.4" fill="#fff" stroke="#FBB020" stroke-width="1.0"/>
<rect x="172.43" y="174.37" width="3.4" height="3.4" fill="#fff" stroke="#FBB020" stroke-width="1.0"/>
<rect x="181.07" y="169.28" width="3.4" height="3.4" fill="#fff" stroke="#FBB020" stroke-width="1.0"/>
<rect x="189.7" y="164.39" width="3.4" height="3.4" fill="#fff" stroke="#FBB020" stroke-width="1.0"/>
<rect x="198.33" y="161.13" width="3.4" height="3.4" fill="#fff" stroke="#FBB020" stroke-width="1.0"/>
<rect x="206.97" y="159.3" width="3.4" height="3.4" fill="#fff" stroke="#FBB020" stroke-width="1.0"/>
<rect x="215.6" y="159.3" width="3.4" height="3.4" fill="#fff" stroke="#FBB020" stroke-width="1.0"/>
<rect x="224.23" y="159.5" width="3.4" height="3.4" fill="#fff" stroke="#FBB020" stroke-width="1.0"/>
<rect x="232.87" y="159.5" width="3.4" height="3.4" fill="#fff" stroke="#FBB020" stroke-width="1.0"/>
<rect x="241.5" y="157.06" width="3.4" height="3.4" fill="#fff" stroke="#FBB020" stroke-width="1.0"/>
<rect x="250.13" y="151.96" width="3.4" height="3.4" fill="#fff" stroke="#FBB020" stroke-width="1.0"/>
<rect x="258.77" y="144.63" width="3.4" height="3.4" fill="#fff" stroke="#FBB020" stroke-width="1.0"/>
<rect x="267.4" y="134.65" width="3.4" height="3.4" fill="#fff" stroke="#FBB020" stroke-width="1.0"/>
<rect x="276.03" y="123.45" width="3.4" height="3.4" fill="#fff" stroke="#FBB020" stroke-width="1.0"/>
<rect x="284.67" y="111.84" width="3.4" height="3.4" fill="#fff" stroke="#FBB020" stroke-width="1.0"/>
<rect x="293.3" y="101.45" width="3.4" height="3.4" fill="#fff" stroke="#FBB020" stroke-width="1.0"/>
<polyline points="36,203.77 44.63,198.68 53.27,191.35 61.9,180.96 70.53,170.16 79.17,166.09 87.8,170.37 96.43,177.09 105.07,184.42 113.7,190.94 122.33,196.44 130.97,201.33 139.6,205 148.23,208.87 156.87,211.31 165.5,213.14 174.13,214.16 182.77,215.18 191.4,216 200.03,216.4 208.67,216.61 217.3,216.61 225.93,216.61 234.57,216.61 243.2,216.61 251.83,215.79 260.47,214.37 269.1,211.51 277.73,206.63 286.37,198.68 295,187.07" fill="none" stroke="#0072BD" stroke-width="1.5" stroke-linejoin="round" />
<circle cx="36" cy="203.77" r="1.75" fill="#fff" stroke="#0072BD" stroke-width="1.2"/>
<circle cx="44.63" cy="198.68" r="1.75" fill="#fff" stroke="#0072BD" stroke-width="1.2"/>
<circle cx="53.27" cy="191.35" r="1.75" fill="#fff" stroke="#0072BD" stroke-width="1.2"/>
<circle cx="61.9" cy="180.96" r="1.75" fill="#fff" stroke="#0072BD" stroke-width="1.2"/>
<circle cx="70.53" cy="170.16" r="1.75" fill="#fff" stroke="#0072BD" stroke-width="1.2"/>
<circle cx="79.17" cy="166.09" r="1.75" fill="#fff" stroke="#0072BD" stroke-width="1.2"/>
<circle cx="87.8" cy="170.37" r="1.75" fill="#fff" stroke="#0072BD" stroke-width="1.2"/>
<circle cx="96.43" cy="177.09" r="1.75" fill="#fff" stroke="#0072BD" stroke-width="1.2"/>
<circle cx="105.07" cy="184.42" r="1.75" fill="#fff" stroke="#0072BD" stroke-width="1.2"/>
<circle cx="113.7" cy="190.94" r="1.75" fill="#fff" stroke="#0072BD" stroke-width="1.2"/>
<circle cx="122.33" cy="196.44" r="1.75" fill="#fff" stroke="#0072BD" stroke-width="1.2"/>
<circle cx="130.97" cy="201.33" r="1.75" fill="#fff" stroke="#0072BD" stroke-width="1.2"/>
<circle cx="139.6" cy="205" r="1.75" fill="#fff" stroke="#0072BD" stroke-width="1.2"/>
<circle cx="148.23" cy="208.87" r="1.75" fill="#fff" stroke="#0072BD" stroke-width="1.2"/>
<circle cx="156.87" cy="211.31" r="1.75" fill="#fff" stroke="#0072BD" stroke-width="1.2"/>
<circle cx="165.5" cy="213.14" r="1.75" fill="#fff" stroke="#0072BD" stroke-width="1.2"/>
<circle cx="174.13" cy="214.16" r="1.75" fill="#fff" stroke="#0072BD" stroke-width="1.2"/>
<circle cx="182.77" cy="215.18" r="1.75" fill="#fff" stroke="#0072BD" stroke-width="1.2"/>
<circle cx="191.4" cy="216" r="1.75" fill="#fff" stroke="#0072BD" stroke-width="1.2"/>
<circle cx="200.03" cy="216.4" r="1.75" fill="#fff" stroke="#0072BD" stroke-width="1.2"/>
<circle cx="208.67" cy="216.61" r="1.75" fill="#fff" stroke="#0072BD" stroke-width="1.2"/>
<circle cx="217.3" cy="216.61" r="1.75" fill="#fff" stroke="#0072BD" stroke-width="1.2"/>
<circle cx="225.93" cy="216.61" r="1.75" fill="#fff" stroke="#0072BD" stroke-width="1.2"/>
<circle cx="234.57" cy="216.61" r="1.75" fill="#fff" stroke="#0072BD" stroke-width="1.2"/>
<circle cx="243.2" cy="216.61" r="1.75" fill="#fff" stroke="#0072BD" stroke-width="1.2"/>
<circle cx="251.83" cy="215.79" r="1.75" fill="#fff" stroke="#0072BD" stroke-width="1.2"/>
<circle cx="260.47" cy="214.37" r="1.75" fill="#fff" stroke="#0072BD" stroke-width="1.2"/>
<circle cx="269.1" cy="211.51" r="1.75" fill="#fff" stroke="#0072BD" stroke-width="1.2"/>
<circle cx="277.73" cy="206.63" r="1.75" fill="#fff" stroke="#0072BD" stroke-width="1.2"/>
<circle cx="286.37" cy="198.68" r="1.75" fill="#fff" stroke="#0072BD" stroke-width="1.2"/>
<circle cx="295" cy="187.07" r="1.75" fill="#fff" stroke="#0072BD" stroke-width="1.2"/>
<rect x="36.0" y="18.0" width="259.0" height="203.7" fill="none" stroke="#3c3c3c" stroke-width="1.2"/>
<path d="M36.0 201.33h2.6M295.0 201.33h-2.6M36.0 180.96h2.6M295.0 180.96h-2.6M36.0 160.59h2.6M295.0 160.59h-2.6M36.0 140.22h2.6M295.0 140.22h-2.6M36.0 119.85h2.6M295.0 119.85h-2.6M36.0 99.48h2.6M295.0 99.48h-2.6M36.0 79.11h2.6M295.0 79.11h-2.6M36.0 58.74h2.6M295.0 58.74h-2.6M36.0 38.37h2.6M295.0 38.37h-2.6M79.17 221.7v-2.6M79.17 18.0v2.6M122.33 221.7v-2.6M122.33 18.0v2.6M165.5 221.7v-2.6M165.5 18.0v2.6M208.67 221.7v-2.6M208.67 18.0v2.6M251.83 221.7v-2.6M251.83 18.0v2.6" stroke="#3c3c3c" stroke-width="1"/>
<g font-family='"Liberation Sans", Arial, Helvetica, sans-serif' font-weight="bold" font-size="8" fill="#262626" stroke="#262626" stroke-width="0.2"><text x="33.3" y="224.6" text-anchor="end">0</text><text x="33.3" y="204.23" text-anchor="end">0.1</text><text x="33.3" y="183.86" text-anchor="end">0.2</text><text x="33.3" y="163.49" text-anchor="end">0.3</text><text x="33.3" y="143.12" text-anchor="end">0.4</text><text x="33.3" y="122.75" text-anchor="end">0.5</text><text x="33.3" y="102.38" text-anchor="end">0.6</text><text x="33.3" y="82.01" text-anchor="end">0.7</text><text x="33.3" y="61.64" text-anchor="end">0.8</text><text x="33.3" y="41.27" text-anchor="end">0.9</text><text x="33.3" y="20.9" text-anchor="end">1</text><text x="36" y="232" text-anchor="middle">400</text><text x="79.17" y="232" text-anchor="middle">450</text><text x="122.33" y="232" text-anchor="middle">500</text><text x="165.5" y="232" text-anchor="middle">550</text><text x="208.67" y="232" text-anchor="middle">600</text><text x="251.83" y="232" text-anchor="middle">650</text><text x="295" y="232" text-anchor="middle">700</text><text x="165.5" y="242.9" text-anchor="middle" font-size="8.4">Wavelength(nm)</text><text transform="translate(18.2,119.5) rotate(-90)" text-anchor="middle">Reflectance</text></g>
<rect x="45.1" y="24.7" width="59.4" height="43.4" fill="#fff" stroke="#3c3c3c" stroke-width="1"/>
<path d="M47.1 29.7h4.1M54.3 29.7h7.8" stroke="#c4c4c4" stroke-width="1.8"/>
<text x="65.8" y="32.4" font-family='"Liberation Sans", Arial, Helvetica, sans-serif' font-weight="bold" font-size="7.4" fill="#1a1a1a">#1(White)</text>
<path d="M46.8 38.3H64.4" stroke="#4DAA1E" stroke-width="1.4"/>
<polygon points="55.6,35.1 56.39,37.21 58.64,37.31 56.88,38.72 57.48,40.89 55.6,39.64 53.72,40.89 54.32,38.72 52.56,37.31 54.81,37.21" fill="#4DAA1E" stroke="#4DAA1E" stroke-width="0.5"/>
<text x="65.8" y="41" font-family='"Liberation Sans", Arial, Helvetica, sans-serif' font-weight="bold" font-size="7.4" fill="#1a1a1a">#2(Green)</text>
<path d="M46.8 46.9H64.4" stroke="#0072BD" stroke-width="1.4"/>
<circle cx="55.6" cy="46.9" r="1.75" fill="#fff" stroke="#0072BD" stroke-width="1.2"/>
<text x="65.8" y="49.6" font-family='"Liberation Sans", Arial, Helvetica, sans-serif' font-weight="bold" font-size="7.4" fill="#1a1a1a">#3(Blue)</text>
<path d="M46.8 55.5H64.4" stroke="#FA4B1A" stroke-width="1.4"/>
<polygon points="55.6,52.7 57.78,55.5 55.6,58.3 53.42,55.5" fill="#fff" stroke="#FA4B1A" stroke-width="1.0"/>
<text x="65.8" y="58.2" font-family='"Liberation Sans", Arial, Helvetica, sans-serif' font-weight="bold" font-size="7.4" fill="#1a1a1a">#4(Red)</text>
<path d="M46.8 64.1H64.4" stroke="#FBB020" stroke-width="1.4"/>
<rect x="53.9" y="62.4" width="3.4" height="3.4" fill="#fff" stroke="#FBB020" stroke-width="1.0"/>
<text x="65.8" y="66.8" font-family='"Liberation Sans", Arial, Helvetica, sans-serif' font-weight="bold" font-size="7.4" fill="#1a1a1a">#5(Yellow)</text>
<rect x="357.7" y="15.88" width="184.8" height="207.72" fill="none" stroke="#666" stroke-width="1.1"/>
<path d="M357.7 200.52h2.2M542.5 200.52h-2.2M357.7 177.44h2.2M542.5 177.44h-2.2M357.7 154.36h2.2M542.5 154.36h-2.2M357.7 131.28h2.2M542.5 131.28h-2.2M357.7 108.2h2.2M542.5 108.2h-2.2M357.7 85.12h2.2M542.5 85.12h-2.2M357.7 62.04h2.2M542.5 62.04h-2.2M357.7 38.96h2.2M542.5 38.96h-2.2M403.9 223.6v-2.2M403.9 15.88v2.2M450.1 223.6v-2.2M450.1 15.88v2.2M496.3 223.6v-2.2M496.3 15.88v2.2" stroke="#333" stroke-width="1"/>
<g font-family='"Liberation Serif", "Times New Roman", serif' font-size="10" fill="#333" stroke="#333" stroke-width="0.15"><text x="354.6" y="227" text-anchor="end">0</text><text x="354.6" y="203.92" text-anchor="end">0.1</text><text x="354.6" y="180.84" text-anchor="end">0.2</text><text x="354.6" y="157.76" text-anchor="end">0.3</text><text x="354.6" y="134.68" text-anchor="end">0.4</text><text x="354.6" y="111.6" text-anchor="end">0.5</text><text x="354.6" y="88.52" text-anchor="end">0.6</text><text x="354.6" y="65.44" text-anchor="end">0.7</text><text x="354.6" y="42.36" text-anchor="end">0.8</text><text x="354.6" y="19.28" text-anchor="end">0.9</text><text x="357.7" y="235.8" text-anchor="middle">0</text><text x="403.9" y="235.8" text-anchor="middle">0.2</text><text x="450.1" y="235.8" text-anchor="middle">0.4</text><text x="496.3" y="235.8" text-anchor="middle">0.6</text><text x="542.5" y="235.8" text-anchor="middle">0.8</text><text x="450.3" y="246" text-anchor="middle">x</text><text transform="translate(338,119.6) rotate(-90)" text-anchor="middle">y</text></g>
<circle cx="435.9" cy="142.2" r="1.9" fill="none" stroke="#222" stroke-width="1"/>
<text x="419" y="137.7" font-family='"Liberation Sans", Arial, Helvetica, sans-serif' font-size="6.7" fill="#1a1a1a">#1 White</text>
<circle cx="409.2" cy="131" r="1.9" fill="none" stroke="#222" stroke-width="1"/>
<text x="391" y="126.8" font-family='"Liberation Sans", Arial, Helvetica, sans-serif' font-size="6.7" fill="#1a1a1a">#2 Green</text>
<circle cx="399.1" cy="182.5" r="1.9" fill="none" stroke="#222" stroke-width="1"/>
<text x="387.9" y="177.7" font-family='"Liberation Sans", Arial, Helvetica, sans-serif' font-size="6.7" fill="#1a1a1a">#3 Blue</text>
<circle cx="493.5" cy="151.5" r="1.9" fill="none" stroke="#222" stroke-width="1"/>
<text x="479.5" y="146.6" font-family='"Liberation Sans", Arial, Helvetica, sans-serif' font-size="6.7" fill="#1a1a1a">#4 Red</text>
<circle cx="472.3" cy="123.5" r="1.9" fill="none" stroke="#222" stroke-width="1"/>
<text x="448" y="117.3" font-family='"Liberation Sans", Arial, Helvetica, sans-serif' font-size="6.7" fill="#1a1a1a">#5 Yellow</text>
</svg>
<svg width="550" height="374" viewBox="0 0 550 374" style="isolation:isolate"><rect x="25" y="256" width="94.2" height="93.5" fill="#D6D1BD"/><rect x="25" y="256" width="94.2" height="93.5" filter="url(#tex)" style="mix-blend-mode:overlay" opacity="0.22"/><rect x="130.4" y="256" width="94.6" height="93.5" fill="#15735F"/><rect x="130.4" y="256" width="94.6" height="93.5" filter="url(#tex)" style="mix-blend-mode:overlay" opacity="0.22"/><rect x="236.8" y="256" width="93.2" height="93.5" fill="#1B4CA2"/><rect x="236.8" y="256" width="93.2" height="93.5" filter="url(#tex)" style="mix-blend-mode:overlay" opacity="0.22"/><rect x="342.1" y="256" width="93.5" height="93.5" fill="#B32126"/><rect x="342.1" y="256" width="93.5" height="93.5" filter="url(#tex)" style="mix-blend-mode:overlay" opacity="0.22"/><rect x="447.3" y="256" width="94.2" height="93.5" fill="#A0740F"/><rect x="447.3" y="256" width="94.2" height="93.5" filter="url(#tex)" style="mix-blend-mode:overlay" opacity="0.22"/></svg>
<div class="cap" style="left:32.1px">#1 White</div>
<div class="cap" style="left:137.7px">#2 Green</div>
<div class="cap" style="left:243.4px">#3 Blue</div>
<div class="cap" style="left:348.85px">#4 Red</div>
<div class="cap" style="left:454.4px">#5 Yellow</div>
<div class="lbl" style="left:2px;top:0.7px">(a)</div>
<div class="lbl" style="left:320.5px;top:4.5px">(b)</div>
<div class="lbl" style="left:1.8px;top:247px">(c)</div>
</body></html>
